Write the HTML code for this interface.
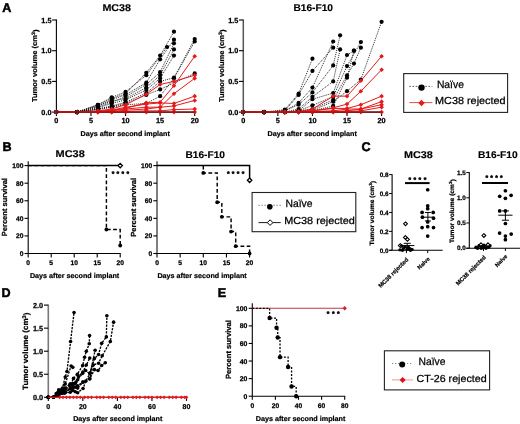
<!DOCTYPE html>
<html><head><meta charset="utf-8"><style>
html,body{margin:0;padding:0;background:#fff;}
svg{display:block;font-family:"Liberation Sans", Arial, sans-serif;text-rendering:geometricPrecision;filter:blur(0.35px);}
</style></head><body>
<svg width="520" height="424" viewBox="0 0 520 424">
<rect width="520" height="424" fill="#fff"/>
<text x="2.3" y="11.5" font-size="12.6" text-anchor="start" font-weight="bold" fill="#000" stroke="#000" stroke-width="0.5" >A</text>
<text x="2.6" y="150.9" font-size="12.6" text-anchor="start" font-weight="bold" fill="#000" stroke="#000" stroke-width="0.5" >B</text>
<text x="361.4" y="150.6" font-size="12.6" text-anchor="start" font-weight="bold" fill="#000" stroke="#000" stroke-width="0.5" >C</text>
<text x="1.5" y="297.4" font-size="12.6" text-anchor="start" font-weight="bold" fill="#000" stroke="#000" stroke-width="0.5" >D</text>
<text x="217.7" y="297.4" font-size="12.6" text-anchor="start" font-weight="bold" fill="#000" stroke="#000" stroke-width="0.5" >E</text>
<text x="102.4" y="10.5" font-size="9.8" text-anchor="start" font-weight="bold" fill="#000" textLength="28.7" lengthAdjust="spacingAndGlyphs" stroke="#000" stroke-width="0.15" >MC38</text>
<line x1="56.4" y1="112.1" x2="56.4" y2="19.5" stroke="#000" stroke-width="1.1" />
<line x1="52.1" y1="112.1" x2="56.4" y2="112.1" stroke="#000" stroke-width="1.1" />
<text x="51.5" y="114.71" font-size="7.3" text-anchor="end" font-weight="bold" fill="#000" stroke="#000" stroke-width="0.25" >0.0</text>
<line x1="52.1" y1="81.4" x2="56.4" y2="81.4" stroke="#000" stroke-width="1.1" />
<text x="51.5" y="84.01" font-size="7.3" text-anchor="end" font-weight="bold" fill="#000" stroke="#000" stroke-width="0.25" >0.5</text>
<line x1="52.1" y1="50.7" x2="56.4" y2="50.7" stroke="#000" stroke-width="1.1" />
<text x="51.5" y="53.31" font-size="7.3" text-anchor="end" font-weight="bold" fill="#000" stroke="#000" stroke-width="0.25" >1.0</text>
<line x1="52.1" y1="20" x2="56.4" y2="20" stroke="#000" stroke-width="1.1" />
<text x="51.5" y="22.61" font-size="7.3" text-anchor="end" font-weight="bold" fill="#000" stroke="#000" stroke-width="0.25" >1.5</text>
<line x1="56.4" y1="112.1" x2="195.2" y2="112.1" stroke="#000" stroke-width="1.1" />
<line x1="56.4" y1="112.1" x2="56.4" y2="115.9" stroke="#000" stroke-width="1.1" />
<text x="56.4" y="123.4" font-size="7.3" text-anchor="middle" font-weight="bold" fill="#000" stroke="#000" stroke-width="0.25" >0</text>
<line x1="90.97" y1="112.1" x2="90.97" y2="115.9" stroke="#000" stroke-width="1.1" />
<text x="90.97" y="123.4" font-size="7.3" text-anchor="middle" font-weight="bold" fill="#000" stroke="#000" stroke-width="0.25" >5</text>
<line x1="125.55" y1="112.1" x2="125.55" y2="115.9" stroke="#000" stroke-width="1.1" />
<text x="125.55" y="123.4" font-size="7.3" text-anchor="middle" font-weight="bold" fill="#000" stroke="#000" stroke-width="0.25" >10</text>
<line x1="160.12" y1="112.1" x2="160.12" y2="115.9" stroke="#000" stroke-width="1.1" />
<text x="160.12" y="123.4" font-size="7.3" text-anchor="middle" font-weight="bold" fill="#000" stroke="#000" stroke-width="0.25" >15</text>
<line x1="194.7" y1="112.1" x2="194.7" y2="115.9" stroke="#000" stroke-width="1.1" />
<text x="194.7" y="123.4" font-size="7.3" text-anchor="middle" font-weight="bold" fill="#000" stroke="#000" stroke-width="0.25" >20</text>
<text transform="translate(36.9,65.8) rotate(-90)" x="0" y="0" font-size="7.1" text-anchor="middle" font-weight="bold" stroke="#000" stroke-width="0.22" textLength="72.6" lengthAdjust="spacingAndGlyphs">Tumor volume (cm<tspan font-size="0.7em" dy="-0.4em">3</tspan><tspan dy="0.4em">)</tspan></text>
<text x="80.6" y="135.8" font-size="7.1" text-anchor="start" font-weight="bold" fill="#000" textLength="89.2" lengthAdjust="spacingAndGlyphs" stroke="#000" stroke-width="0.22" >Days after second implant</text>
<polyline points="56.4,112.1 77.14,112.1 97.89,104.73 111.72,98.59 125.55,93.68 146.29,72.8 160.12,55.61 173.96,31.67" fill="none" stroke="#111" stroke-width="0.9" stroke-dasharray="1,1" />
<polyline points="56.4,112.1 77.14,112.1 97.89,105.96 111.72,99.82 125.55,94.91 146.29,82.63 160.12,59.3 173.96,39.65" fill="none" stroke="#111" stroke-width="0.9" stroke-dasharray="1,1" />
<polyline points="56.4,112.1 77.14,112.1 97.89,107.19 111.72,102.28 125.55,96.75 146.29,84.47 160.12,72.19 173.96,43.33" fill="none" stroke="#111" stroke-width="0.9" stroke-dasharray="1,1" />
<polyline points="56.4,112.1 77.14,112.1 97.89,105.96 111.72,101.05 125.55,98.59 146.29,87.54 160.12,75.26 173.96,49.47" fill="none" stroke="#111" stroke-width="0.9" stroke-dasharray="1,1" />
<polyline points="56.4,112.1 77.14,112.1 97.89,107.8 111.72,103.5 125.55,99.82 146.29,90 160.12,78.33 173.96,55.61" fill="none" stroke="#111" stroke-width="0.9" stroke-dasharray="1,1" />
<polyline points="56.4,112.1 77.14,112.1 97.89,104.73 111.72,97.36 125.55,91.84 146.29,75.26 167.04,47.02" fill="none" stroke="#111" stroke-width="0.9" stroke-dasharray="1,1" />
<polyline points="56.4,112.1 77.14,112.1 97.89,109.03 111.72,105.96 125.55,102.28 146.29,93.07 160.12,81.4 173.96,77.72 194.7,39.03" fill="none" stroke="#111" stroke-width="0.9" stroke-dasharray="1,1" />
<polyline points="56.4,112.1 77.14,112.1 97.89,109.64 111.72,107.19 125.55,104.73 146.29,103.5 160.12,96.14 173.96,78.33 194.7,41.49" fill="none" stroke="#111" stroke-width="0.9" stroke-dasharray="1,1" />
<polyline points="56.4,112.1 77.14,112.1 97.89,109.03 111.72,106.57 125.55,103.5 146.29,94.91 160.12,89.38 194.7,73.42" fill="none" stroke="#111" stroke-width="0.9" stroke-dasharray="1,1" />
<circle cx="56.4" cy="112.1" r="2.1" fill="#000" stroke="none" stroke-width="0"/>
<circle cx="77.14" cy="112.1" r="2.1" fill="#000" stroke="none" stroke-width="0"/>
<circle cx="97.89" cy="104.73" r="2.1" fill="#000" stroke="none" stroke-width="0"/>
<circle cx="111.72" cy="98.59" r="2.1" fill="#000" stroke="none" stroke-width="0"/>
<circle cx="125.55" cy="93.68" r="2.1" fill="#000" stroke="none" stroke-width="0"/>
<circle cx="146.29" cy="72.8" r="2.1" fill="#000" stroke="none" stroke-width="0"/>
<circle cx="160.12" cy="55.61" r="2.1" fill="#000" stroke="none" stroke-width="0"/>
<circle cx="173.96" cy="31.67" r="2.1" fill="#000" stroke="none" stroke-width="0"/>
<circle cx="56.4" cy="112.1" r="2.1" fill="#000" stroke="none" stroke-width="0"/>
<circle cx="77.14" cy="112.1" r="2.1" fill="#000" stroke="none" stroke-width="0"/>
<circle cx="97.89" cy="105.96" r="2.1" fill="#000" stroke="none" stroke-width="0"/>
<circle cx="111.72" cy="99.82" r="2.1" fill="#000" stroke="none" stroke-width="0"/>
<circle cx="125.55" cy="94.91" r="2.1" fill="#000" stroke="none" stroke-width="0"/>
<circle cx="146.29" cy="82.63" r="2.1" fill="#000" stroke="none" stroke-width="0"/>
<circle cx="160.12" cy="59.3" r="2.1" fill="#000" stroke="none" stroke-width="0"/>
<circle cx="173.96" cy="39.65" r="2.1" fill="#000" stroke="none" stroke-width="0"/>
<circle cx="56.4" cy="112.1" r="2.1" fill="#000" stroke="none" stroke-width="0"/>
<circle cx="77.14" cy="112.1" r="2.1" fill="#000" stroke="none" stroke-width="0"/>
<circle cx="97.89" cy="107.19" r="2.1" fill="#000" stroke="none" stroke-width="0"/>
<circle cx="111.72" cy="102.28" r="2.1" fill="#000" stroke="none" stroke-width="0"/>
<circle cx="125.55" cy="96.75" r="2.1" fill="#000" stroke="none" stroke-width="0"/>
<circle cx="146.29" cy="84.47" r="2.1" fill="#000" stroke="none" stroke-width="0"/>
<circle cx="160.12" cy="72.19" r="2.1" fill="#000" stroke="none" stroke-width="0"/>
<circle cx="173.96" cy="43.33" r="2.1" fill="#000" stroke="none" stroke-width="0"/>
<circle cx="56.4" cy="112.1" r="2.1" fill="#000" stroke="none" stroke-width="0"/>
<circle cx="77.14" cy="112.1" r="2.1" fill="#000" stroke="none" stroke-width="0"/>
<circle cx="97.89" cy="105.96" r="2.1" fill="#000" stroke="none" stroke-width="0"/>
<circle cx="111.72" cy="101.05" r="2.1" fill="#000" stroke="none" stroke-width="0"/>
<circle cx="125.55" cy="98.59" r="2.1" fill="#000" stroke="none" stroke-width="0"/>
<circle cx="146.29" cy="87.54" r="2.1" fill="#000" stroke="none" stroke-width="0"/>
<circle cx="160.12" cy="75.26" r="2.1" fill="#000" stroke="none" stroke-width="0"/>
<circle cx="173.96" cy="49.47" r="2.1" fill="#000" stroke="none" stroke-width="0"/>
<circle cx="56.4" cy="112.1" r="2.1" fill="#000" stroke="none" stroke-width="0"/>
<circle cx="77.14" cy="112.1" r="2.1" fill="#000" stroke="none" stroke-width="0"/>
<circle cx="97.89" cy="107.8" r="2.1" fill="#000" stroke="none" stroke-width="0"/>
<circle cx="111.72" cy="103.5" r="2.1" fill="#000" stroke="none" stroke-width="0"/>
<circle cx="125.55" cy="99.82" r="2.1" fill="#000" stroke="none" stroke-width="0"/>
<circle cx="146.29" cy="90" r="2.1" fill="#000" stroke="none" stroke-width="0"/>
<circle cx="160.12" cy="78.33" r="2.1" fill="#000" stroke="none" stroke-width="0"/>
<circle cx="173.96" cy="55.61" r="2.1" fill="#000" stroke="none" stroke-width="0"/>
<circle cx="56.4" cy="112.1" r="2.1" fill="#000" stroke="none" stroke-width="0"/>
<circle cx="77.14" cy="112.1" r="2.1" fill="#000" stroke="none" stroke-width="0"/>
<circle cx="97.89" cy="104.73" r="2.1" fill="#000" stroke="none" stroke-width="0"/>
<circle cx="111.72" cy="97.36" r="2.1" fill="#000" stroke="none" stroke-width="0"/>
<circle cx="125.55" cy="91.84" r="2.1" fill="#000" stroke="none" stroke-width="0"/>
<circle cx="146.29" cy="75.26" r="2.1" fill="#000" stroke="none" stroke-width="0"/>
<circle cx="167.04" cy="47.02" r="2.1" fill="#000" stroke="none" stroke-width="0"/>
<circle cx="56.4" cy="112.1" r="2.1" fill="#000" stroke="none" stroke-width="0"/>
<circle cx="77.14" cy="112.1" r="2.1" fill="#000" stroke="none" stroke-width="0"/>
<circle cx="97.89" cy="109.03" r="2.1" fill="#000" stroke="none" stroke-width="0"/>
<circle cx="111.72" cy="105.96" r="2.1" fill="#000" stroke="none" stroke-width="0"/>
<circle cx="125.55" cy="102.28" r="2.1" fill="#000" stroke="none" stroke-width="0"/>
<circle cx="146.29" cy="93.07" r="2.1" fill="#000" stroke="none" stroke-width="0"/>
<circle cx="160.12" cy="81.4" r="2.1" fill="#000" stroke="none" stroke-width="0"/>
<circle cx="173.96" cy="77.72" r="2.1" fill="#000" stroke="none" stroke-width="0"/>
<circle cx="194.7" cy="39.03" r="2.1" fill="#000" stroke="none" stroke-width="0"/>
<circle cx="56.4" cy="112.1" r="2.1" fill="#000" stroke="none" stroke-width="0"/>
<circle cx="77.14" cy="112.1" r="2.1" fill="#000" stroke="none" stroke-width="0"/>
<circle cx="97.89" cy="109.64" r="2.1" fill="#000" stroke="none" stroke-width="0"/>
<circle cx="111.72" cy="107.19" r="2.1" fill="#000" stroke="none" stroke-width="0"/>
<circle cx="125.55" cy="104.73" r="2.1" fill="#000" stroke="none" stroke-width="0"/>
<circle cx="146.29" cy="103.5" r="2.1" fill="#000" stroke="none" stroke-width="0"/>
<circle cx="160.12" cy="96.14" r="2.1" fill="#000" stroke="none" stroke-width="0"/>
<circle cx="173.96" cy="78.33" r="2.1" fill="#000" stroke="none" stroke-width="0"/>
<circle cx="194.7" cy="41.49" r="2.1" fill="#000" stroke="none" stroke-width="0"/>
<circle cx="56.4" cy="112.1" r="2.1" fill="#000" stroke="none" stroke-width="0"/>
<circle cx="77.14" cy="112.1" r="2.1" fill="#000" stroke="none" stroke-width="0"/>
<circle cx="97.89" cy="109.03" r="2.1" fill="#000" stroke="none" stroke-width="0"/>
<circle cx="111.72" cy="106.57" r="2.1" fill="#000" stroke="none" stroke-width="0"/>
<circle cx="125.55" cy="103.5" r="2.1" fill="#000" stroke="none" stroke-width="0"/>
<circle cx="146.29" cy="94.91" r="2.1" fill="#000" stroke="none" stroke-width="0"/>
<circle cx="160.12" cy="89.38" r="2.1" fill="#000" stroke="none" stroke-width="0"/>
<circle cx="194.7" cy="73.42" r="2.1" fill="#000" stroke="none" stroke-width="0"/>
<polyline points="56.4,112.1 77.14,112.1 97.89,110.87 111.72,109.03 125.55,104.73 146.29,94.29 160.12,84.47 173.96,81.4 194.7,75.26" fill="none" stroke="#e41a1c" stroke-width="1.0" />
<polyline points="56.4,112.1 77.14,112.1 97.89,111.49 111.72,110.26 125.55,108.42 146.29,102.89 160.12,102.28 173.96,85.7 194.7,56.23" fill="none" stroke="#e41a1c" stroke-width="1.0" />
<polyline points="56.4,112.1 77.14,112.1 97.89,111.49 111.72,110.87 125.55,109.03 146.29,107.19 160.12,107.19 173.96,93.68 194.7,78.33" fill="none" stroke="#e41a1c" stroke-width="1.0" />
<polyline points="56.4,112.1 77.14,112.1 97.89,111.49 111.72,110.26 125.55,107.19 146.29,104.12 160.12,102.89 173.96,103.5 194.7,96.14" fill="none" stroke="#e41a1c" stroke-width="1.0" />
<polyline points="56.4,112.1 77.14,112.1 97.89,112.1 111.72,111.49 125.55,110.26 146.29,109.03 160.12,107.19 173.96,105.96 194.7,100.43" fill="none" stroke="#e41a1c" stroke-width="1.0" />
<polyline points="56.4,112.1 77.14,112.1 97.89,112.1 111.72,112.1 125.55,111.49 146.29,110.87 160.12,110.87 173.96,109.64 194.7,109.03" fill="none" stroke="#e41a1c" stroke-width="1.0" />
<polyline points="56.4,112.1 77.14,112.1 97.89,112.1 111.72,112.1 125.55,112.1 146.29,112.1 160.12,112.1 173.96,112.1 194.7,112.1" fill="none" stroke="#e41a1c" stroke-width="1.0" />
<polygon points="56.4,109.8 58.7,112.1 56.4,114.4 54.1,112.1" fill="#8e1b25" stroke="none" stroke-width="0"/>
<polygon points="77.14,109.8 79.44,112.1 77.14,114.4 74.84,112.1" fill="#8e1b25" stroke="none" stroke-width="0"/>
<polygon points="97.89,108.57 100.19,110.87 97.89,113.17 95.59,110.87" fill="#e41a1c" stroke="none" stroke-width="0"/>
<polygon points="111.72,106.73 114.02,109.03 111.72,111.33 109.42,109.03" fill="#e41a1c" stroke="none" stroke-width="0"/>
<polygon points="125.55,102.43 127.85,104.73 125.55,107.03 123.25,104.73" fill="#e41a1c" stroke="none" stroke-width="0"/>
<polygon points="146.29,91.99 148.59,94.29 146.29,96.59 143.99,94.29" fill="#e41a1c" stroke="none" stroke-width="0"/>
<polygon points="160.12,82.17 162.43,84.47 160.12,86.77 157.82,84.47" fill="#e41a1c" stroke="none" stroke-width="0"/>
<polygon points="173.96,79.1 176.26,81.4 173.96,83.7 171.66,81.4" fill="#e41a1c" stroke="none" stroke-width="0"/>
<polygon points="194.7,72.96 197,75.26 194.7,77.56 192.4,75.26" fill="#e41a1c" stroke="none" stroke-width="0"/>
<polygon points="56.4,109.8 58.7,112.1 56.4,114.4 54.1,112.1" fill="#8e1b25" stroke="none" stroke-width="0"/>
<polygon points="77.14,109.8 79.44,112.1 77.14,114.4 74.84,112.1" fill="#8e1b25" stroke="none" stroke-width="0"/>
<polygon points="97.89,109.19 100.19,111.49 97.89,113.79 95.59,111.49" fill="#e41a1c" stroke="none" stroke-width="0"/>
<polygon points="111.72,107.96 114.02,110.26 111.72,112.56 109.42,110.26" fill="#e41a1c" stroke="none" stroke-width="0"/>
<polygon points="125.55,106.12 127.85,108.42 125.55,110.72 123.25,108.42" fill="#e41a1c" stroke="none" stroke-width="0"/>
<polygon points="146.29,100.59 148.59,102.89 146.29,105.19 143.99,102.89" fill="#e41a1c" stroke="none" stroke-width="0"/>
<polygon points="160.12,99.98 162.43,102.28 160.12,104.58 157.82,102.28" fill="#e41a1c" stroke="none" stroke-width="0"/>
<polygon points="173.96,83.4 176.26,85.7 173.96,88 171.66,85.7" fill="#e41a1c" stroke="none" stroke-width="0"/>
<polygon points="194.7,53.93 197,56.23 194.7,58.53 192.4,56.23" fill="#e41a1c" stroke="none" stroke-width="0"/>
<polygon points="56.4,109.8 58.7,112.1 56.4,114.4 54.1,112.1" fill="#8e1b25" stroke="none" stroke-width="0"/>
<polygon points="77.14,109.8 79.44,112.1 77.14,114.4 74.84,112.1" fill="#8e1b25" stroke="none" stroke-width="0"/>
<polygon points="97.89,109.19 100.19,111.49 97.89,113.79 95.59,111.49" fill="#e41a1c" stroke="none" stroke-width="0"/>
<polygon points="111.72,108.57 114.02,110.87 111.72,113.17 109.42,110.87" fill="#e41a1c" stroke="none" stroke-width="0"/>
<polygon points="125.55,106.73 127.85,109.03 125.55,111.33 123.25,109.03" fill="#e41a1c" stroke="none" stroke-width="0"/>
<polygon points="146.29,104.89 148.59,107.19 146.29,109.49 143.99,107.19" fill="#e41a1c" stroke="none" stroke-width="0"/>
<polygon points="160.12,104.89 162.43,107.19 160.12,109.49 157.82,107.19" fill="#e41a1c" stroke="none" stroke-width="0"/>
<polygon points="173.96,91.38 176.26,93.68 173.96,95.98 171.66,93.68" fill="#e41a1c" stroke="none" stroke-width="0"/>
<polygon points="194.7,76.03 197,78.33 194.7,80.63 192.4,78.33" fill="#e41a1c" stroke="none" stroke-width="0"/>
<polygon points="56.4,109.8 58.7,112.1 56.4,114.4 54.1,112.1" fill="#8e1b25" stroke="none" stroke-width="0"/>
<polygon points="77.14,109.8 79.44,112.1 77.14,114.4 74.84,112.1" fill="#8e1b25" stroke="none" stroke-width="0"/>
<polygon points="97.89,109.19 100.19,111.49 97.89,113.79 95.59,111.49" fill="#e41a1c" stroke="none" stroke-width="0"/>
<polygon points="111.72,107.96 114.02,110.26 111.72,112.56 109.42,110.26" fill="#e41a1c" stroke="none" stroke-width="0"/>
<polygon points="125.55,104.89 127.85,107.19 125.55,109.49 123.25,107.19" fill="#e41a1c" stroke="none" stroke-width="0"/>
<polygon points="146.29,101.82 148.59,104.12 146.29,106.42 143.99,104.12" fill="#e41a1c" stroke="none" stroke-width="0"/>
<polygon points="160.12,100.59 162.43,102.89 160.12,105.19 157.82,102.89" fill="#e41a1c" stroke="none" stroke-width="0"/>
<polygon points="173.96,101.2 176.26,103.5 173.96,105.8 171.66,103.5" fill="#e41a1c" stroke="none" stroke-width="0"/>
<polygon points="194.7,93.84 197,96.14 194.7,98.44 192.4,96.14" fill="#e41a1c" stroke="none" stroke-width="0"/>
<polygon points="56.4,109.8 58.7,112.1 56.4,114.4 54.1,112.1" fill="#8e1b25" stroke="none" stroke-width="0"/>
<polygon points="77.14,109.8 79.44,112.1 77.14,114.4 74.84,112.1" fill="#8e1b25" stroke="none" stroke-width="0"/>
<polygon points="97.89,109.8 100.19,112.1 97.89,114.4 95.59,112.1" fill="#e41a1c" stroke="none" stroke-width="0"/>
<polygon points="111.72,109.19 114.02,111.49 111.72,113.79 109.42,111.49" fill="#e41a1c" stroke="none" stroke-width="0"/>
<polygon points="125.55,107.96 127.85,110.26 125.55,112.56 123.25,110.26" fill="#e41a1c" stroke="none" stroke-width="0"/>
<polygon points="146.29,106.73 148.59,109.03 146.29,111.33 143.99,109.03" fill="#e41a1c" stroke="none" stroke-width="0"/>
<polygon points="160.12,104.89 162.43,107.19 160.12,109.49 157.82,107.19" fill="#e41a1c" stroke="none" stroke-width="0"/>
<polygon points="173.96,103.66 176.26,105.96 173.96,108.26 171.66,105.96" fill="#e41a1c" stroke="none" stroke-width="0"/>
<polygon points="194.7,98.13 197,100.43 194.7,102.73 192.4,100.43" fill="#e41a1c" stroke="none" stroke-width="0"/>
<polygon points="56.4,109.8 58.7,112.1 56.4,114.4 54.1,112.1" fill="#8e1b25" stroke="none" stroke-width="0"/>
<polygon points="77.14,109.8 79.44,112.1 77.14,114.4 74.84,112.1" fill="#8e1b25" stroke="none" stroke-width="0"/>
<polygon points="97.89,109.8 100.19,112.1 97.89,114.4 95.59,112.1" fill="#e41a1c" stroke="none" stroke-width="0"/>
<polygon points="111.72,109.8 114.02,112.1 111.72,114.4 109.42,112.1" fill="#e41a1c" stroke="none" stroke-width="0"/>
<polygon points="125.55,109.19 127.85,111.49 125.55,113.79 123.25,111.49" fill="#e41a1c" stroke="none" stroke-width="0"/>
<polygon points="146.29,108.57 148.59,110.87 146.29,113.17 143.99,110.87" fill="#e41a1c" stroke="none" stroke-width="0"/>
<polygon points="160.12,108.57 162.43,110.87 160.12,113.17 157.82,110.87" fill="#e41a1c" stroke="none" stroke-width="0"/>
<polygon points="173.96,107.34 176.26,109.64 173.96,111.94 171.66,109.64" fill="#e41a1c" stroke="none" stroke-width="0"/>
<polygon points="194.7,106.73 197,109.03 194.7,111.33 192.4,109.03" fill="#e41a1c" stroke="none" stroke-width="0"/>
<polygon points="56.4,109.8 58.7,112.1 56.4,114.4 54.1,112.1" fill="#8e1b25" stroke="none" stroke-width="0"/>
<polygon points="77.14,109.8 79.44,112.1 77.14,114.4 74.84,112.1" fill="#8e1b25" stroke="none" stroke-width="0"/>
<polygon points="97.89,109.8 100.19,112.1 97.89,114.4 95.59,112.1" fill="#e41a1c" stroke="none" stroke-width="0"/>
<polygon points="111.72,109.8 114.02,112.1 111.72,114.4 109.42,112.1" fill="#e41a1c" stroke="none" stroke-width="0"/>
<polygon points="125.55,109.8 127.85,112.1 125.55,114.4 123.25,112.1" fill="#e41a1c" stroke="none" stroke-width="0"/>
<polygon points="146.29,109.8 148.59,112.1 146.29,114.4 143.99,112.1" fill="#e41a1c" stroke="none" stroke-width="0"/>
<polygon points="160.12,109.8 162.43,112.1 160.12,114.4 157.82,112.1" fill="#e41a1c" stroke="none" stroke-width="0"/>
<polygon points="173.96,109.8 176.26,112.1 173.96,114.4 171.66,112.1" fill="#e41a1c" stroke="none" stroke-width="0"/>
<polygon points="194.7,109.8 197,112.1 194.7,114.4 192.4,112.1" fill="#e41a1c" stroke="none" stroke-width="0"/>
<line x1="56.4" y1="112.1" x2="195.2" y2="112.1" stroke="#000" stroke-width="0.7" stroke-opacity="0.6"/>
<text x="293.4" y="10.5" font-size="9.8" text-anchor="start" font-weight="bold" fill="#000" textLength="39.6" lengthAdjust="spacingAndGlyphs" stroke="#000" stroke-width="0.15" >B16-F10</text>
<line x1="243.3" y1="112.1" x2="243.3" y2="19.5" stroke="#555" stroke-width="1.5" />
<line x1="239" y1="112.1" x2="243.3" y2="112.1" stroke="#000" stroke-width="1.1" />
<text x="238.4" y="114.71" font-size="7.3" text-anchor="end" font-weight="bold" fill="#000" stroke="#000" stroke-width="0.25" >0.0</text>
<line x1="239" y1="81.4" x2="243.3" y2="81.4" stroke="#000" stroke-width="1.1" />
<text x="238.4" y="84.01" font-size="7.3" text-anchor="end" font-weight="bold" fill="#000" stroke="#000" stroke-width="0.25" >0.5</text>
<line x1="239" y1="50.7" x2="243.3" y2="50.7" stroke="#000" stroke-width="1.1" />
<text x="238.4" y="53.31" font-size="7.3" text-anchor="end" font-weight="bold" fill="#000" stroke="#000" stroke-width="0.25" >1.0</text>
<line x1="239" y1="20" x2="243.3" y2="20" stroke="#000" stroke-width="1.1" />
<text x="238.4" y="22.61" font-size="7.3" text-anchor="end" font-weight="bold" fill="#000" stroke="#000" stroke-width="0.25" >1.5</text>
<line x1="243.3" y1="112.1" x2="382.1" y2="112.1" stroke="#000" stroke-width="1.1" />
<line x1="243.3" y1="112.1" x2="243.3" y2="115.9" stroke="#000" stroke-width="1.1" />
<text x="243.3" y="123.4" font-size="7.3" text-anchor="middle" font-weight="bold" fill="#000" stroke="#000" stroke-width="0.25" >0</text>
<line x1="277.88" y1="112.1" x2="277.88" y2="115.9" stroke="#000" stroke-width="1.1" />
<text x="277.88" y="123.4" font-size="7.3" text-anchor="middle" font-weight="bold" fill="#000" stroke="#000" stroke-width="0.25" >5</text>
<line x1="312.45" y1="112.1" x2="312.45" y2="115.9" stroke="#000" stroke-width="1.1" />
<text x="312.45" y="123.4" font-size="7.3" text-anchor="middle" font-weight="bold" fill="#000" stroke="#000" stroke-width="0.25" >10</text>
<line x1="347.02" y1="112.1" x2="347.02" y2="115.9" stroke="#000" stroke-width="1.1" />
<text x="347.02" y="123.4" font-size="7.3" text-anchor="middle" font-weight="bold" fill="#000" stroke="#000" stroke-width="0.25" >15</text>
<line x1="381.6" y1="112.1" x2="381.6" y2="115.9" stroke="#000" stroke-width="1.1" />
<text x="381.6" y="123.4" font-size="7.3" text-anchor="middle" font-weight="bold" fill="#000" stroke="#000" stroke-width="0.25" >20</text>
<text transform="translate(223.9,65.8) rotate(-90)" x="0" y="0" font-size="7.1" text-anchor="middle" font-weight="bold" stroke="#000" stroke-width="0.22" textLength="72.6" lengthAdjust="spacingAndGlyphs">Tumor volume (cm<tspan font-size="0.7em" dy="-0.4em">3</tspan><tspan dy="0.4em">)</tspan></text>
<text x="267.6" y="135.8" font-size="7.1" text-anchor="start" font-weight="bold" fill="#000" textLength="89.2" lengthAdjust="spacingAndGlyphs" stroke="#000" stroke-width="0.22" >Days after second implant</text>
<polyline points="243.3,112.1 264.05,112.1 284.79,109.64 298.62,93.68 312.45,58.68" fill="none" stroke="#111" stroke-width="0.9" stroke-dasharray="1,1" />
<polyline points="243.3,112.1 264.05,112.1 284.79,110.87 298.62,94.91 312.45,70.96 333.19,47.63" fill="none" stroke="#111" stroke-width="0.9" stroke-dasharray="1,1" />
<polyline points="243.3,112.1 264.05,112.1 284.79,110.87 298.62,102.89 312.45,87.54 333.19,41.49" fill="none" stroke="#111" stroke-width="0.9" stroke-dasharray="1,1" />
<polyline points="243.3,112.1 264.05,112.1 284.79,110.87 298.62,104.73 312.45,92.45 333.19,65.44 340.11,35.35" fill="none" stroke="#111" stroke-width="0.9" stroke-dasharray="1,1" />
<polyline points="243.3,112.1 264.05,112.1 284.79,112.1 298.62,109.03 312.45,96.75 333.19,81.4 340.11,49.47" fill="none" stroke="#111" stroke-width="0.9" stroke-dasharray="1,1" />
<polyline points="243.3,112.1 264.05,112.1 284.79,112.1 298.62,110.87 312.45,99.21 333.19,93.07 347.02,55 353.94,50.7" fill="none" stroke="#111" stroke-width="0.9" stroke-dasharray="1,1" />
<polyline points="243.3,112.1 264.05,112.1 284.79,112.1 298.62,110.87 312.45,105.35 333.19,96.75 347.02,66.05 360.86,42.1" fill="none" stroke="#111" stroke-width="0.9" stroke-dasharray="1,1" />
<polyline points="243.3,112.1 264.05,112.1 284.79,112.1 298.62,110.87 312.45,109.03 333.19,99.82 347.02,75.26 353.94,63.59 360.86,47.63" fill="none" stroke="#111" stroke-width="0.9" stroke-dasharray="1,1" />
<polyline points="243.3,112.1 264.05,112.1 284.79,112.1 298.62,111.49 312.45,110.26 333.19,101.66 347.02,91.22 360.86,79.56 381.6,21.84" fill="none" stroke="#111" stroke-width="0.9" stroke-dasharray="1,1" />
<polyline points="243.3,112.1 264.05,112.1 284.79,112.1 298.62,111.49 312.45,110.87 333.19,105.96 347.02,77.72 353.94,50.7" fill="none" stroke="#111" stroke-width="0.9" stroke-dasharray="1,1" />
<circle cx="243.3" cy="112.1" r="2.1" fill="#000" stroke="none" stroke-width="0"/>
<circle cx="264.05" cy="112.1" r="2.1" fill="#000" stroke="none" stroke-width="0"/>
<circle cx="284.79" cy="109.64" r="2.1" fill="#000" stroke="none" stroke-width="0"/>
<circle cx="298.62" cy="93.68" r="2.1" fill="#000" stroke="none" stroke-width="0"/>
<circle cx="312.45" cy="58.68" r="2.1" fill="#000" stroke="none" stroke-width="0"/>
<circle cx="243.3" cy="112.1" r="2.1" fill="#000" stroke="none" stroke-width="0"/>
<circle cx="264.05" cy="112.1" r="2.1" fill="#000" stroke="none" stroke-width="0"/>
<circle cx="284.79" cy="110.87" r="2.1" fill="#000" stroke="none" stroke-width="0"/>
<circle cx="298.62" cy="94.91" r="2.1" fill="#000" stroke="none" stroke-width="0"/>
<circle cx="312.45" cy="70.96" r="2.1" fill="#000" stroke="none" stroke-width="0"/>
<circle cx="333.19" cy="47.63" r="2.1" fill="#000" stroke="none" stroke-width="0"/>
<circle cx="243.3" cy="112.1" r="2.1" fill="#000" stroke="none" stroke-width="0"/>
<circle cx="264.05" cy="112.1" r="2.1" fill="#000" stroke="none" stroke-width="0"/>
<circle cx="284.79" cy="110.87" r="2.1" fill="#000" stroke="none" stroke-width="0"/>
<circle cx="298.62" cy="102.89" r="2.1" fill="#000" stroke="none" stroke-width="0"/>
<circle cx="312.45" cy="87.54" r="2.1" fill="#000" stroke="none" stroke-width="0"/>
<circle cx="333.19" cy="41.49" r="2.1" fill="#000" stroke="none" stroke-width="0"/>
<circle cx="243.3" cy="112.1" r="2.1" fill="#000" stroke="none" stroke-width="0"/>
<circle cx="264.05" cy="112.1" r="2.1" fill="#000" stroke="none" stroke-width="0"/>
<circle cx="284.79" cy="110.87" r="2.1" fill="#000" stroke="none" stroke-width="0"/>
<circle cx="298.62" cy="104.73" r="2.1" fill="#000" stroke="none" stroke-width="0"/>
<circle cx="312.45" cy="92.45" r="2.1" fill="#000" stroke="none" stroke-width="0"/>
<circle cx="333.19" cy="65.44" r="2.1" fill="#000" stroke="none" stroke-width="0"/>
<circle cx="340.11" cy="35.35" r="2.1" fill="#000" stroke="none" stroke-width="0"/>
<circle cx="243.3" cy="112.1" r="2.1" fill="#000" stroke="none" stroke-width="0"/>
<circle cx="264.05" cy="112.1" r="2.1" fill="#000" stroke="none" stroke-width="0"/>
<circle cx="284.79" cy="112.1" r="2.1" fill="#000" stroke="none" stroke-width="0"/>
<circle cx="298.62" cy="109.03" r="2.1" fill="#000" stroke="none" stroke-width="0"/>
<circle cx="312.45" cy="96.75" r="2.1" fill="#000" stroke="none" stroke-width="0"/>
<circle cx="333.19" cy="81.4" r="2.1" fill="#000" stroke="none" stroke-width="0"/>
<circle cx="340.11" cy="49.47" r="2.1" fill="#000" stroke="none" stroke-width="0"/>
<circle cx="243.3" cy="112.1" r="2.1" fill="#000" stroke="none" stroke-width="0"/>
<circle cx="264.05" cy="112.1" r="2.1" fill="#000" stroke="none" stroke-width="0"/>
<circle cx="284.79" cy="112.1" r="2.1" fill="#000" stroke="none" stroke-width="0"/>
<circle cx="298.62" cy="110.87" r="2.1" fill="#000" stroke="none" stroke-width="0"/>
<circle cx="312.45" cy="99.21" r="2.1" fill="#000" stroke="none" stroke-width="0"/>
<circle cx="333.19" cy="93.07" r="2.1" fill="#000" stroke="none" stroke-width="0"/>
<circle cx="347.02" cy="55" r="2.1" fill="#000" stroke="none" stroke-width="0"/>
<circle cx="353.94" cy="50.7" r="2.1" fill="#000" stroke="none" stroke-width="0"/>
<circle cx="243.3" cy="112.1" r="2.1" fill="#000" stroke="none" stroke-width="0"/>
<circle cx="264.05" cy="112.1" r="2.1" fill="#000" stroke="none" stroke-width="0"/>
<circle cx="284.79" cy="112.1" r="2.1" fill="#000" stroke="none" stroke-width="0"/>
<circle cx="298.62" cy="110.87" r="2.1" fill="#000" stroke="none" stroke-width="0"/>
<circle cx="312.45" cy="105.35" r="2.1" fill="#000" stroke="none" stroke-width="0"/>
<circle cx="333.19" cy="96.75" r="2.1" fill="#000" stroke="none" stroke-width="0"/>
<circle cx="347.02" cy="66.05" r="2.1" fill="#000" stroke="none" stroke-width="0"/>
<circle cx="360.86" cy="42.1" r="2.1" fill="#000" stroke="none" stroke-width="0"/>
<circle cx="243.3" cy="112.1" r="2.1" fill="#000" stroke="none" stroke-width="0"/>
<circle cx="264.05" cy="112.1" r="2.1" fill="#000" stroke="none" stroke-width="0"/>
<circle cx="284.79" cy="112.1" r="2.1" fill="#000" stroke="none" stroke-width="0"/>
<circle cx="298.62" cy="110.87" r="2.1" fill="#000" stroke="none" stroke-width="0"/>
<circle cx="312.45" cy="109.03" r="2.1" fill="#000" stroke="none" stroke-width="0"/>
<circle cx="333.19" cy="99.82" r="2.1" fill="#000" stroke="none" stroke-width="0"/>
<circle cx="347.02" cy="75.26" r="2.1" fill="#000" stroke="none" stroke-width="0"/>
<circle cx="353.94" cy="63.59" r="2.1" fill="#000" stroke="none" stroke-width="0"/>
<circle cx="360.86" cy="47.63" r="2.1" fill="#000" stroke="none" stroke-width="0"/>
<circle cx="243.3" cy="112.1" r="2.1" fill="#000" stroke="none" stroke-width="0"/>
<circle cx="264.05" cy="112.1" r="2.1" fill="#000" stroke="none" stroke-width="0"/>
<circle cx="284.79" cy="112.1" r="2.1" fill="#000" stroke="none" stroke-width="0"/>
<circle cx="298.62" cy="111.49" r="2.1" fill="#000" stroke="none" stroke-width="0"/>
<circle cx="312.45" cy="110.26" r="2.1" fill="#000" stroke="none" stroke-width="0"/>
<circle cx="333.19" cy="101.66" r="2.1" fill="#000" stroke="none" stroke-width="0"/>
<circle cx="347.02" cy="91.22" r="2.1" fill="#000" stroke="none" stroke-width="0"/>
<circle cx="360.86" cy="79.56" r="2.1" fill="#000" stroke="none" stroke-width="0"/>
<circle cx="381.6" cy="21.84" r="2.1" fill="#000" stroke="none" stroke-width="0"/>
<circle cx="243.3" cy="112.1" r="2.1" fill="#000" stroke="none" stroke-width="0"/>
<circle cx="264.05" cy="112.1" r="2.1" fill="#000" stroke="none" stroke-width="0"/>
<circle cx="284.79" cy="112.1" r="2.1" fill="#000" stroke="none" stroke-width="0"/>
<circle cx="298.62" cy="111.49" r="2.1" fill="#000" stroke="none" stroke-width="0"/>
<circle cx="312.45" cy="110.87" r="2.1" fill="#000" stroke="none" stroke-width="0"/>
<circle cx="333.19" cy="105.96" r="2.1" fill="#000" stroke="none" stroke-width="0"/>
<circle cx="347.02" cy="77.72" r="2.1" fill="#000" stroke="none" stroke-width="0"/>
<circle cx="353.94" cy="50.7" r="2.1" fill="#000" stroke="none" stroke-width="0"/>
<polyline points="243.3,112.1 264.05,112.1 284.79,112.1 298.62,111.49 312.45,109.03 333.19,96.14 347.02,96.14 360.86,80.79 381.6,56.23" fill="none" stroke="#e41a1c" stroke-width="1.0" />
<polyline points="243.3,112.1 264.05,112.1 284.79,112.1 298.62,111.49 312.45,110.87 333.19,107.8 347.02,104.12 360.86,91.22 381.6,69.73" fill="none" stroke="#e41a1c" stroke-width="1.0" />
<polyline points="243.3,112.1 264.05,112.1 284.79,112.1 298.62,112.1 312.45,110.87 333.19,108.42 347.02,108.42 360.86,104.73 381.6,96.14" fill="none" stroke="#e41a1c" stroke-width="1.0" />
<polyline points="243.3,112.1 264.05,112.1 284.79,112.1 298.62,112.1 312.45,111.49 333.19,110.87 347.02,109.03 360.86,109.03 381.6,101.66" fill="none" stroke="#e41a1c" stroke-width="1.0" />
<polyline points="243.3,112.1 264.05,112.1 284.79,112.1 298.62,112.1 312.45,112.1 333.19,111.49 347.02,110.87 360.86,109.03 381.6,104.73" fill="none" stroke="#e41a1c" stroke-width="1.0" />
<polyline points="243.3,112.1 264.05,112.1 284.79,112.1 298.62,112.1 312.45,112.1 333.19,112.1 347.02,111.49 360.86,110.87 381.6,107.19" fill="none" stroke="#e41a1c" stroke-width="1.0" />
<polyline points="243.3,112.1 264.05,112.1 284.79,112.1 298.62,112.1 312.45,112.1 333.19,112.1 347.02,112.1 360.86,112.1 381.6,112.1" fill="none" stroke="#e41a1c" stroke-width="1.0" />
<polygon points="243.3,109.8 245.6,112.1 243.3,114.4 241,112.1" fill="#8e1b25" stroke="none" stroke-width="0"/>
<polygon points="264.05,109.8 266.35,112.1 264.05,114.4 261.75,112.1" fill="#8e1b25" stroke="none" stroke-width="0"/>
<polygon points="284.79,109.8 287.09,112.1 284.79,114.4 282.49,112.1" fill="#e41a1c" stroke="none" stroke-width="0"/>
<polygon points="298.62,109.19 300.92,111.49 298.62,113.79 296.32,111.49" fill="#e41a1c" stroke="none" stroke-width="0"/>
<polygon points="312.45,106.73 314.75,109.03 312.45,111.33 310.15,109.03" fill="#e41a1c" stroke="none" stroke-width="0"/>
<polygon points="333.19,93.84 335.5,96.14 333.19,98.44 330.89,96.14" fill="#e41a1c" stroke="none" stroke-width="0"/>
<polygon points="347.02,93.84 349.32,96.14 347.02,98.44 344.72,96.14" fill="#e41a1c" stroke="none" stroke-width="0"/>
<polygon points="360.86,78.49 363.16,80.79 360.86,83.09 358.56,80.79" fill="#e41a1c" stroke="none" stroke-width="0"/>
<polygon points="381.6,53.93 383.9,56.23 381.6,58.53 379.3,56.23" fill="#e41a1c" stroke="none" stroke-width="0"/>
<polygon points="243.3,109.8 245.6,112.1 243.3,114.4 241,112.1" fill="#8e1b25" stroke="none" stroke-width="0"/>
<polygon points="264.05,109.8 266.35,112.1 264.05,114.4 261.75,112.1" fill="#8e1b25" stroke="none" stroke-width="0"/>
<polygon points="284.79,109.8 287.09,112.1 284.79,114.4 282.49,112.1" fill="#e41a1c" stroke="none" stroke-width="0"/>
<polygon points="298.62,109.19 300.92,111.49 298.62,113.79 296.32,111.49" fill="#e41a1c" stroke="none" stroke-width="0"/>
<polygon points="312.45,108.57 314.75,110.87 312.45,113.17 310.15,110.87" fill="#e41a1c" stroke="none" stroke-width="0"/>
<polygon points="333.19,105.5 335.5,107.8 333.19,110.1 330.89,107.8" fill="#e41a1c" stroke="none" stroke-width="0"/>
<polygon points="347.02,101.82 349.32,104.12 347.02,106.42 344.72,104.12" fill="#e41a1c" stroke="none" stroke-width="0"/>
<polygon points="360.86,88.92 363.16,91.22 360.86,93.52 358.56,91.22" fill="#e41a1c" stroke="none" stroke-width="0"/>
<polygon points="381.6,67.43 383.9,69.73 381.6,72.03 379.3,69.73" fill="#e41a1c" stroke="none" stroke-width="0"/>
<polygon points="243.3,109.8 245.6,112.1 243.3,114.4 241,112.1" fill="#8e1b25" stroke="none" stroke-width="0"/>
<polygon points="264.05,109.8 266.35,112.1 264.05,114.4 261.75,112.1" fill="#8e1b25" stroke="none" stroke-width="0"/>
<polygon points="284.79,109.8 287.09,112.1 284.79,114.4 282.49,112.1" fill="#e41a1c" stroke="none" stroke-width="0"/>
<polygon points="298.62,109.8 300.92,112.1 298.62,114.4 296.32,112.1" fill="#e41a1c" stroke="none" stroke-width="0"/>
<polygon points="312.45,108.57 314.75,110.87 312.45,113.17 310.15,110.87" fill="#e41a1c" stroke="none" stroke-width="0"/>
<polygon points="333.19,106.12 335.5,108.42 333.19,110.72 330.89,108.42" fill="#e41a1c" stroke="none" stroke-width="0"/>
<polygon points="347.02,106.12 349.32,108.42 347.02,110.72 344.72,108.42" fill="#e41a1c" stroke="none" stroke-width="0"/>
<polygon points="360.86,102.43 363.16,104.73 360.86,107.03 358.56,104.73" fill="#e41a1c" stroke="none" stroke-width="0"/>
<polygon points="381.6,93.84 383.9,96.14 381.6,98.44 379.3,96.14" fill="#e41a1c" stroke="none" stroke-width="0"/>
<polygon points="243.3,109.8 245.6,112.1 243.3,114.4 241,112.1" fill="#8e1b25" stroke="none" stroke-width="0"/>
<polygon points="264.05,109.8 266.35,112.1 264.05,114.4 261.75,112.1" fill="#8e1b25" stroke="none" stroke-width="0"/>
<polygon points="284.79,109.8 287.09,112.1 284.79,114.4 282.49,112.1" fill="#e41a1c" stroke="none" stroke-width="0"/>
<polygon points="298.62,109.8 300.92,112.1 298.62,114.4 296.32,112.1" fill="#e41a1c" stroke="none" stroke-width="0"/>
<polygon points="312.45,109.19 314.75,111.49 312.45,113.79 310.15,111.49" fill="#e41a1c" stroke="none" stroke-width="0"/>
<polygon points="333.19,108.57 335.5,110.87 333.19,113.17 330.89,110.87" fill="#e41a1c" stroke="none" stroke-width="0"/>
<polygon points="347.02,106.73 349.32,109.03 347.02,111.33 344.72,109.03" fill="#e41a1c" stroke="none" stroke-width="0"/>
<polygon points="360.86,106.73 363.16,109.03 360.86,111.33 358.56,109.03" fill="#e41a1c" stroke="none" stroke-width="0"/>
<polygon points="381.6,99.36 383.9,101.66 381.6,103.96 379.3,101.66" fill="#e41a1c" stroke="none" stroke-width="0"/>
<polygon points="243.3,109.8 245.6,112.1 243.3,114.4 241,112.1" fill="#8e1b25" stroke="none" stroke-width="0"/>
<polygon points="264.05,109.8 266.35,112.1 264.05,114.4 261.75,112.1" fill="#8e1b25" stroke="none" stroke-width="0"/>
<polygon points="284.79,109.8 287.09,112.1 284.79,114.4 282.49,112.1" fill="#e41a1c" stroke="none" stroke-width="0"/>
<polygon points="298.62,109.8 300.92,112.1 298.62,114.4 296.32,112.1" fill="#e41a1c" stroke="none" stroke-width="0"/>
<polygon points="312.45,109.8 314.75,112.1 312.45,114.4 310.15,112.1" fill="#e41a1c" stroke="none" stroke-width="0"/>
<polygon points="333.19,109.19 335.5,111.49 333.19,113.79 330.89,111.49" fill="#e41a1c" stroke="none" stroke-width="0"/>
<polygon points="347.02,108.57 349.32,110.87 347.02,113.17 344.72,110.87" fill="#e41a1c" stroke="none" stroke-width="0"/>
<polygon points="360.86,106.73 363.16,109.03 360.86,111.33 358.56,109.03" fill="#e41a1c" stroke="none" stroke-width="0"/>
<polygon points="381.6,102.43 383.9,104.73 381.6,107.03 379.3,104.73" fill="#e41a1c" stroke="none" stroke-width="0"/>
<polygon points="243.3,109.8 245.6,112.1 243.3,114.4 241,112.1" fill="#8e1b25" stroke="none" stroke-width="0"/>
<polygon points="264.05,109.8 266.35,112.1 264.05,114.4 261.75,112.1" fill="#8e1b25" stroke="none" stroke-width="0"/>
<polygon points="284.79,109.8 287.09,112.1 284.79,114.4 282.49,112.1" fill="#e41a1c" stroke="none" stroke-width="0"/>
<polygon points="298.62,109.8 300.92,112.1 298.62,114.4 296.32,112.1" fill="#e41a1c" stroke="none" stroke-width="0"/>
<polygon points="312.45,109.8 314.75,112.1 312.45,114.4 310.15,112.1" fill="#e41a1c" stroke="none" stroke-width="0"/>
<polygon points="333.19,109.8 335.5,112.1 333.19,114.4 330.89,112.1" fill="#e41a1c" stroke="none" stroke-width="0"/>
<polygon points="347.02,109.19 349.32,111.49 347.02,113.79 344.72,111.49" fill="#e41a1c" stroke="none" stroke-width="0"/>
<polygon points="360.86,108.57 363.16,110.87 360.86,113.17 358.56,110.87" fill="#e41a1c" stroke="none" stroke-width="0"/>
<polygon points="381.6,104.89 383.9,107.19 381.6,109.49 379.3,107.19" fill="#e41a1c" stroke="none" stroke-width="0"/>
<polygon points="243.3,109.8 245.6,112.1 243.3,114.4 241,112.1" fill="#8e1b25" stroke="none" stroke-width="0"/>
<polygon points="264.05,109.8 266.35,112.1 264.05,114.4 261.75,112.1" fill="#8e1b25" stroke="none" stroke-width="0"/>
<polygon points="284.79,109.8 287.09,112.1 284.79,114.4 282.49,112.1" fill="#e41a1c" stroke="none" stroke-width="0"/>
<polygon points="298.62,109.8 300.92,112.1 298.62,114.4 296.32,112.1" fill="#e41a1c" stroke="none" stroke-width="0"/>
<polygon points="312.45,109.8 314.75,112.1 312.45,114.4 310.15,112.1" fill="#e41a1c" stroke="none" stroke-width="0"/>
<polygon points="333.19,109.8 335.5,112.1 333.19,114.4 330.89,112.1" fill="#e41a1c" stroke="none" stroke-width="0"/>
<polygon points="347.02,109.8 349.32,112.1 347.02,114.4 344.72,112.1" fill="#e41a1c" stroke="none" stroke-width="0"/>
<polygon points="360.86,109.8 363.16,112.1 360.86,114.4 358.56,112.1" fill="#e41a1c" stroke="none" stroke-width="0"/>
<polygon points="381.6,109.8 383.9,112.1 381.6,114.4 379.3,112.1" fill="#e41a1c" stroke="none" stroke-width="0"/>
<line x1="243.3" y1="112.1" x2="382.1" y2="112.1" stroke="#000" stroke-width="0.7" stroke-opacity="0.6"/>
<rect x="403.7" y="73.6" width="103.9" height="38.8" fill="none" stroke="#222" stroke-width="1.1"/>
<line x1="409.3" y1="86.4" x2="432.4" y2="86.4" stroke="#333" stroke-width="0.8" stroke-dasharray="1.6,1.6"/>
<circle cx="421.5" cy="87.6" r="3.2" fill="#000" stroke="none" stroke-width="0"/>
<text x="436.9" y="87.9" font-size="10.7" text-anchor="start" font-weight="normal" fill="#000" textLength="27" lengthAdjust="spacingAndGlyphs" stroke="#000" stroke-width="0.25" >Naïve</text>
<line x1="409.3" y1="102.6" x2="432.4" y2="102.6" stroke="#e41a1c" stroke-width="0.8" />
<polygon points="421.5,99.8 424.7,103 421.5,106.2 418.3,103" fill="#e41a1c" stroke="none" stroke-width="0"/>
<text x="435" y="104.3" font-size="10.2" text-anchor="start" font-weight="normal" fill="#000" textLength="70.6" lengthAdjust="spacingAndGlyphs" stroke="#000" stroke-width="0.25" >MC38 rejected</text>
<text x="55.6" y="156.9" font-size="9.8" text-anchor="start" font-weight="bold" fill="#000" textLength="29.2" lengthAdjust="spacingAndGlyphs" stroke="#000" stroke-width="0.15" >MC38</text>
<line x1="28.2" y1="253.5" x2="28.2" y2="161.3" stroke="#000" stroke-width="1.1" />
<line x1="24.5" y1="253.5" x2="28.2" y2="253.5" stroke="#000" stroke-width="1.1" />
<text x="23.4" y="255.9" font-size="6.7" text-anchor="end" font-weight="bold" fill="#000" stroke="#000" stroke-width="0.25" >0</text>
<line x1="24.5" y1="235.92" x2="28.2" y2="235.92" stroke="#000" stroke-width="1.1" />
<text x="23.4" y="238.32" font-size="6.7" text-anchor="end" font-weight="bold" fill="#000" stroke="#000" stroke-width="0.25" >20</text>
<line x1="24.5" y1="218.34" x2="28.2" y2="218.34" stroke="#000" stroke-width="1.1" />
<text x="23.4" y="220.74" font-size="6.7" text-anchor="end" font-weight="bold" fill="#000" stroke="#000" stroke-width="0.25" >40</text>
<line x1="24.5" y1="200.76" x2="28.2" y2="200.76" stroke="#000" stroke-width="1.1" />
<text x="23.4" y="203.16" font-size="6.7" text-anchor="end" font-weight="bold" fill="#000" stroke="#000" stroke-width="0.25" >60</text>
<line x1="24.5" y1="183.18" x2="28.2" y2="183.18" stroke="#000" stroke-width="1.1" />
<text x="23.4" y="185.58" font-size="6.7" text-anchor="end" font-weight="bold" fill="#000" stroke="#000" stroke-width="0.25" >80</text>
<line x1="24.5" y1="165.6" x2="28.2" y2="165.6" stroke="#000" stroke-width="1.1" />
<text x="23.4" y="168" font-size="6.7" text-anchor="end" font-weight="bold" fill="#000" stroke="#000" stroke-width="0.25" >100</text>
<line x1="28.2" y1="253.5" x2="120.7" y2="253.5" stroke="#000" stroke-width="1.1" />
<line x1="28.2" y1="253.5" x2="28.2" y2="257.5" stroke="#000" stroke-width="1.1" />
<text x="28.2" y="264.8" font-size="6.7" text-anchor="middle" font-weight="bold" fill="#000" stroke="#000" stroke-width="0.25" >0</text>
<line x1="51.2" y1="253.5" x2="51.2" y2="257.5" stroke="#000" stroke-width="1.1" />
<text x="51.2" y="264.8" font-size="6.7" text-anchor="middle" font-weight="bold" fill="#000" stroke="#000" stroke-width="0.25" >5</text>
<line x1="74.2" y1="253.5" x2="74.2" y2="257.5" stroke="#000" stroke-width="1.1" />
<text x="74.2" y="264.8" font-size="6.7" text-anchor="middle" font-weight="bold" fill="#000" stroke="#000" stroke-width="0.25" >10</text>
<line x1="97.2" y1="253.5" x2="97.2" y2="257.5" stroke="#000" stroke-width="1.1" />
<text x="97.2" y="264.8" font-size="6.7" text-anchor="middle" font-weight="bold" fill="#000" stroke="#000" stroke-width="0.25" >15</text>
<line x1="120.2" y1="253.5" x2="120.2" y2="257.5" stroke="#000" stroke-width="1.1" />
<text x="120.2" y="264.8" font-size="6.7" text-anchor="middle" font-weight="bold" fill="#000" stroke="#000" stroke-width="0.25" >20</text>
<text transform="translate(7,207.15) rotate(-90)" x="0" y="0" font-size="7.4" text-anchor="middle" font-weight="bold" stroke="#000" stroke-width="0.22" textLength="58.1" lengthAdjust="spacingAndGlyphs">Percent survival</text>
<text x="29.9" y="277.8" font-size="7.1" text-anchor="start" font-weight="bold" fill="#000" textLength="89.3" lengthAdjust="spacingAndGlyphs" stroke="#000" stroke-width="0.22" >Days after second implant</text>
<polyline points="28.2,165.6 106.4,165.6 106.4,229.5 120.2,229.5 120.2,245.5" fill="none" stroke="#000" stroke-width="1.45" stroke-dasharray="3.8,2.4" />
<circle cx="106.4" cy="229.5" r="1.9" fill="#000" stroke="none" stroke-width="0"/>
<circle cx="120.2" cy="245.5" r="1.9" fill="#000" stroke="none" stroke-width="0"/>
<polyline points="28.2,165.6 120.2,165.6 120.2,165.6" fill="none" stroke="#000" stroke-width="1.5" />
<polygon points="120.2,163.4 122.4,165.6 120.2,167.8 118,165.6" fill="#fff" stroke="#000" stroke-width="1.3"/>
<text x="111.68" y="175.84" font-size="6.8" font-weight="bold" stroke="#000" stroke-width="0.4" textLength="17.45" lengthAdjust="spacing">****</text>
<text x="185.4" y="158" font-size="9.8" text-anchor="start" font-weight="bold" fill="#000" textLength="39.6" lengthAdjust="spacingAndGlyphs" stroke="#000" stroke-width="0.15" >B16-F10</text>
<line x1="157" y1="253.5" x2="157" y2="161.3" stroke="#555" stroke-width="1.5" />
<line x1="153.3" y1="253.5" x2="157" y2="253.5" stroke="#000" stroke-width="1.1" />
<text x="152.2" y="255.9" font-size="6.7" text-anchor="end" font-weight="bold" fill="#000" stroke="#000" stroke-width="0.25" >0</text>
<line x1="153.3" y1="235.92" x2="157" y2="235.92" stroke="#000" stroke-width="1.1" />
<text x="152.2" y="238.32" font-size="6.7" text-anchor="end" font-weight="bold" fill="#000" stroke="#000" stroke-width="0.25" >20</text>
<line x1="153.3" y1="218.34" x2="157" y2="218.34" stroke="#000" stroke-width="1.1" />
<text x="152.2" y="220.74" font-size="6.7" text-anchor="end" font-weight="bold" fill="#000" stroke="#000" stroke-width="0.25" >40</text>
<line x1="153.3" y1="200.76" x2="157" y2="200.76" stroke="#000" stroke-width="1.1" />
<text x="152.2" y="203.16" font-size="6.7" text-anchor="end" font-weight="bold" fill="#000" stroke="#000" stroke-width="0.25" >60</text>
<line x1="153.3" y1="183.18" x2="157" y2="183.18" stroke="#000" stroke-width="1.1" />
<text x="152.2" y="185.58" font-size="6.7" text-anchor="end" font-weight="bold" fill="#000" stroke="#000" stroke-width="0.25" >80</text>
<line x1="153.3" y1="165.6" x2="157" y2="165.6" stroke="#000" stroke-width="1.1" />
<text x="152.2" y="168" font-size="6.7" text-anchor="end" font-weight="bold" fill="#000" stroke="#000" stroke-width="0.25" >100</text>
<line x1="157" y1="253.5" x2="250.1" y2="253.5" stroke="#000" stroke-width="1.1" />
<line x1="157" y1="253.5" x2="157" y2="257.5" stroke="#000" stroke-width="1.1" />
<text x="157" y="264.8" font-size="6.7" text-anchor="middle" font-weight="bold" fill="#000" stroke="#000" stroke-width="0.25" >0</text>
<line x1="180.15" y1="253.5" x2="180.15" y2="257.5" stroke="#000" stroke-width="1.1" />
<text x="180.15" y="264.8" font-size="6.7" text-anchor="middle" font-weight="bold" fill="#000" stroke="#000" stroke-width="0.25" >5</text>
<line x1="203.3" y1="253.5" x2="203.3" y2="257.5" stroke="#000" stroke-width="1.1" />
<text x="203.3" y="264.8" font-size="6.7" text-anchor="middle" font-weight="bold" fill="#000" stroke="#000" stroke-width="0.25" >10</text>
<line x1="226.45" y1="253.5" x2="226.45" y2="257.5" stroke="#000" stroke-width="1.1" />
<text x="226.45" y="264.8" font-size="6.7" text-anchor="middle" font-weight="bold" fill="#000" stroke="#000" stroke-width="0.25" >15</text>
<line x1="249.6" y1="253.5" x2="249.6" y2="257.5" stroke="#000" stroke-width="1.1" />
<text x="249.6" y="264.8" font-size="6.7" text-anchor="middle" font-weight="bold" fill="#000" stroke="#000" stroke-width="0.25" >20</text>
<text transform="translate(136,207.3) rotate(-90)" x="0" y="0" font-size="7.4" text-anchor="middle" font-weight="bold" stroke="#000" stroke-width="0.22" textLength="59" lengthAdjust="spacingAndGlyphs">Percent survival</text>
<text x="157.4" y="277.8" font-size="7.1" text-anchor="start" font-weight="bold" fill="#000" textLength="89.3" lengthAdjust="spacingAndGlyphs" stroke="#000" stroke-width="0.22" >Days after second implant</text>
<polyline points="203.3,165.6 203.3,172.9 217.19,172.9 217.19,202.25 221.82,202.25 221.82,216.85 231.08,216.85 231.08,231.53 235.71,231.53 235.71,246.2 249.6,246.2 249.6,253.5" fill="none" stroke="#000" stroke-width="1.45" stroke-dasharray="3.8,2.4" />
<circle cx="203.3" cy="172.9" r="1.9" fill="#000" stroke="none" stroke-width="0"/>
<circle cx="217.19" cy="202.25" r="1.9" fill="#000" stroke="none" stroke-width="0"/>
<circle cx="221.82" cy="216.85" r="1.9" fill="#000" stroke="none" stroke-width="0"/>
<circle cx="231.08" cy="231.53" r="1.9" fill="#000" stroke="none" stroke-width="0"/>
<circle cx="235.71" cy="246.2" r="1.9" fill="#000" stroke="none" stroke-width="0"/>
<circle cx="249.6" cy="253.5" r="1.9" fill="#000" stroke="none" stroke-width="0"/>
<polyline points="157,165.6 249.6,165.6 249.6,180.28" fill="none" stroke="#000" stroke-width="1.5" />
<polygon points="249.6,178.08 251.8,180.28 249.6,182.48 247.4,180.28" fill="#fff" stroke="#000" stroke-width="1.3"/>
<text x="226.88" y="175.84" font-size="6.8" font-weight="bold" stroke="#000" stroke-width="0.4" textLength="17.45" lengthAdjust="spacing">****</text>
<rect x="252.1" y="192.5" width="103.7" height="39.2" fill="none" stroke="#222" stroke-width="1.1"/>
<line x1="258.5" y1="205.4" x2="280.7" y2="205.4" stroke="#888" stroke-width="1.2" stroke-dasharray="1.2,1.8"/>
<circle cx="269.8" cy="206.8" r="2.8" fill="#000" stroke="none" stroke-width="0"/>
<text x="285.5" y="207.3" font-size="10.7" text-anchor="start" font-weight="normal" fill="#000" textLength="27" lengthAdjust="spacingAndGlyphs" stroke="#000" stroke-width="0.25" >Naïve</text>
<line x1="258.5" y1="222.6" x2="280.7" y2="222.6" stroke="#000" stroke-width="0.9" />
<polygon points="270.1,219.8 272.9,222.6 270.1,225.4 267.3,222.6" fill="#fff" stroke="#000" stroke-width="1.0"/>
<text x="284.2" y="223.8" font-size="10.2" text-anchor="start" font-weight="normal" fill="#000" textLength="70.6" lengthAdjust="spacingAndGlyphs" stroke="#000" stroke-width="0.25" >MC38 rejected</text>
<text x="403.9" y="157.8" font-size="9.8" text-anchor="start" font-weight="bold" fill="#000" textLength="28.9" lengthAdjust="spacingAndGlyphs" stroke="#000" stroke-width="0.15" >MC38</text>
<line x1="392.1" y1="250.3" x2="392.1" y2="174.22" stroke="#000" stroke-width="1.1" />
<line x1="389.1" y1="250.3" x2="392.1" y2="250.3" stroke="#000" stroke-width="1.0" />
<text x="388.5" y="252.56" font-size="6.3" text-anchor="end" font-weight="bold" fill="#000" stroke="#000" stroke-width="0.25" >0.0</text>
<line x1="389.1" y1="231.38" x2="392.1" y2="231.38" stroke="#000" stroke-width="1.0" />
<text x="388.5" y="233.64" font-size="6.3" text-anchor="end" font-weight="bold" fill="#000" stroke="#000" stroke-width="0.25" >0.2</text>
<line x1="389.1" y1="212.46" x2="392.1" y2="212.46" stroke="#000" stroke-width="1.0" />
<text x="388.5" y="214.72" font-size="6.3" text-anchor="end" font-weight="bold" fill="#000" stroke="#000" stroke-width="0.25" >0.4</text>
<line x1="389.1" y1="193.54" x2="392.1" y2="193.54" stroke="#000" stroke-width="1.0" />
<text x="388.5" y="195.8" font-size="6.3" text-anchor="end" font-weight="bold" fill="#000" stroke="#000" stroke-width="0.25" >0.6</text>
<line x1="389.1" y1="174.62" x2="392.1" y2="174.62" stroke="#000" stroke-width="1.0" />
<text x="388.5" y="176.88" font-size="6.3" text-anchor="end" font-weight="bold" fill="#000" stroke="#000" stroke-width="0.25" >0.8</text>
<line x1="389.2" y1="250.3" x2="442.7" y2="250.3" stroke="#000" stroke-width="1.1" />
<line x1="406.4" y1="250.3" x2="406.4" y2="253.1" stroke="#000" stroke-width="1" />
<line x1="427.7" y1="250.3" x2="427.7" y2="253.1" stroke="#000" stroke-width="1" />
<text transform="translate(374,213.15) rotate(-90)" x="0" y="0" font-size="6.3" text-anchor="middle" font-weight="bold" stroke="#000" stroke-width="0.22" textLength="64.5" lengthAdjust="spacingAndGlyphs">Tumor volume (cm<tspan font-size="0.7em" dy="-0.4em">3</tspan><tspan dy="0.4em">)</tspan></text>
<circle cx="401.5" cy="246.04" r="1.7" fill="#000" stroke="none" stroke-width="0"/>
<circle cx="403.5" cy="248.41" r="1.7" fill="#000" stroke="none" stroke-width="0"/>
<circle cx="407" cy="249.35" r="1.7" fill="#000" stroke="none" stroke-width="0"/>
<circle cx="410.5" cy="250.3" r="1.7" fill="#000" stroke="none" stroke-width="0"/>
<circle cx="402.5" cy="250.3" r="1.7" fill="#000" stroke="none" stroke-width="0"/>
<circle cx="408.5" cy="247.46" r="1.7" fill="#000" stroke="none" stroke-width="0"/>
<circle cx="412" cy="249.35" r="1.7" fill="#000" stroke="none" stroke-width="0"/>
<circle cx="400" cy="249.83" r="1.7" fill="#000" stroke="none" stroke-width="0"/>
<circle cx="405" cy="246.52" r="1.7" fill="#000" stroke="none" stroke-width="0"/>
<circle cx="409.5" cy="249.16" r="1.7" fill="#000" stroke="none" stroke-width="0"/>
<polygon points="405.5,221.91 407.4,223.81 405.5,225.71 403.6,223.81" fill="#fff" stroke="#000" stroke-width="1.1"/>
<polygon points="405.4,235.53 407.3,237.43 405.4,239.33 403.5,237.43" fill="#fff" stroke="#000" stroke-width="1.1"/>
<polygon points="407.4,237.52 409.3,239.42 407.4,241.32 405.5,239.42" fill="#fff" stroke="#000" stroke-width="1.1"/>
<polygon points="400.3,243.67 402.2,245.57 400.3,247.47 398.4,245.57" fill="#fff" stroke="#000" stroke-width="1.1"/>
<circle cx="427.7" cy="189.76" r="1.85" fill="#000" stroke="none" stroke-width="0"/>
<circle cx="427.7" cy="205.84" r="1.85" fill="#000" stroke="none" stroke-width="0"/>
<circle cx="427.7" cy="208.68" r="1.85" fill="#000" stroke="none" stroke-width="0"/>
<circle cx="433.2" cy="212.46" r="1.85" fill="#000" stroke="none" stroke-width="0"/>
<circle cx="422.1" cy="212.46" r="1.85" fill="#000" stroke="none" stroke-width="0"/>
<circle cx="422.4" cy="217.19" r="1.85" fill="#000" stroke="none" stroke-width="0"/>
<circle cx="433.5" cy="218.14" r="1.85" fill="#000" stroke="none" stroke-width="0"/>
<circle cx="427.7" cy="221.92" r="1.85" fill="#000" stroke="none" stroke-width="0"/>
<circle cx="422.1" cy="227.6" r="1.85" fill="#000" stroke="none" stroke-width="0"/>
<circle cx="433.5" cy="227.6" r="1.85" fill="#000" stroke="none" stroke-width="0"/>
<circle cx="427.7" cy="226.65" r="1.85" fill="#000" stroke="none" stroke-width="0"/>
<circle cx="427.7" cy="236.11" r="1.85" fill="#000" stroke="none" stroke-width="0"/>
<line x1="400" y1="245.57" x2="414.4" y2="245.57" stroke="#000" stroke-width="1" />
<line x1="407.2" y1="247.56" x2="407.2" y2="243.3" stroke="#000" stroke-width="1" />
<line x1="403.7" y1="247.56" x2="410.7" y2="247.56" stroke="#000" stroke-width="1" />
<line x1="403.7" y1="243.3" x2="410.7" y2="243.3" stroke="#000" stroke-width="1" />
<line x1="422.3" y1="217.19" x2="433.5" y2="217.19" stroke="#000" stroke-width="1" />
<line x1="427.9" y1="220.97" x2="427.9" y2="212.46" stroke="#000" stroke-width="1" />
<line x1="424.9" y1="220.97" x2="430.9" y2="220.97" stroke="#000" stroke-width="1" />
<line x1="424.9" y1="212.46" x2="430.9" y2="212.46" stroke="#000" stroke-width="1" />
<line x1="405" y1="183.1" x2="429.6" y2="183.1" stroke="#000" stroke-width="2.0" />
<text x="408.48" y="181.54" font-size="6.8" font-weight="bold" stroke="#000" stroke-width="0.4" textLength="17.85" lengthAdjust="spacing">****</text>
<text transform="translate(408.8,260.05) rotate(-45)" font-size="5.85" text-anchor="end" font-weight="bold" stroke="#000" stroke-width="0.2">MC38 rejected</text>
<text transform="translate(430.1,259.25) rotate(-45)" font-size="5.6" text-anchor="end" font-weight="bold" stroke="#000" stroke-width="0.2">Naive</text>
<text x="477.9" y="157.8" font-size="9.8" text-anchor="start" font-weight="bold" fill="#000" textLength="39.8" lengthAdjust="spacingAndGlyphs" stroke="#000" stroke-width="0.15" >B16-F10</text>
<line x1="469.3" y1="248.2" x2="469.3" y2="172.2" stroke="#000" stroke-width="1.1" />
<line x1="466.3" y1="248.2" x2="469.3" y2="248.2" stroke="#000" stroke-width="1.0" />
<text x="465.7" y="250.46" font-size="6.3" text-anchor="end" font-weight="bold" fill="#000" stroke="#000" stroke-width="0.25" >0.0</text>
<line x1="466.3" y1="223" x2="469.3" y2="223" stroke="#000" stroke-width="1.0" />
<text x="465.7" y="225.26" font-size="6.3" text-anchor="end" font-weight="bold" fill="#000" stroke="#000" stroke-width="0.25" >0.5</text>
<line x1="466.3" y1="197.8" x2="469.3" y2="197.8" stroke="#000" stroke-width="1.0" />
<text x="465.7" y="200.06" font-size="6.3" text-anchor="end" font-weight="bold" fill="#000" stroke="#000" stroke-width="0.25" >1.0</text>
<line x1="466.3" y1="172.6" x2="469.3" y2="172.6" stroke="#000" stroke-width="1.0" />
<text x="465.7" y="174.86" font-size="6.3" text-anchor="end" font-weight="bold" fill="#000" stroke="#000" stroke-width="0.25" >1.5</text>
<line x1="466.2" y1="248.2" x2="521" y2="248.2" stroke="#000" stroke-width="1.1" />
<line x1="483.5" y1="248.2" x2="483.5" y2="251" stroke="#000" stroke-width="1" />
<line x1="505.4" y1="248.2" x2="505.4" y2="251" stroke="#000" stroke-width="1" />
<text transform="translate(453.9,211.15) rotate(-90)" x="0" y="0" font-size="6.3" text-anchor="middle" font-weight="bold" stroke="#000" stroke-width="0.22" textLength="63.9" lengthAdjust="spacingAndGlyphs">Tumor volume (cm<tspan font-size="0.7em" dy="-0.4em">3</tspan><tspan dy="0.4em">)</tspan></text>
<circle cx="476" cy="247.19" r="1.7" fill="#000" stroke="none" stroke-width="0"/>
<circle cx="479" cy="245.68" r="1.7" fill="#000" stroke="none" stroke-width="0"/>
<circle cx="482" cy="247.7" r="1.7" fill="#000" stroke="none" stroke-width="0"/>
<circle cx="485" cy="246.69" r="1.7" fill="#000" stroke="none" stroke-width="0"/>
<circle cx="488.5" cy="247.19" r="1.7" fill="#000" stroke="none" stroke-width="0"/>
<circle cx="490" cy="245.68" r="1.7" fill="#000" stroke="none" stroke-width="0"/>
<circle cx="481" cy="248.2" r="1.7" fill="#000" stroke="none" stroke-width="0"/>
<circle cx="486" cy="248.2" r="1.7" fill="#000" stroke="none" stroke-width="0"/>
<circle cx="477.5" cy="248.2" r="1.7" fill="#000" stroke="none" stroke-width="0"/>
<circle cx="484" cy="245.18" r="1.7" fill="#000" stroke="none" stroke-width="0"/>
<polygon points="483.9,233.7 485.8,235.6 483.9,237.5 482,235.6" fill="#fff" stroke="#000" stroke-width="1.1"/>
<polygon points="481,242.77 482.9,244.67 481,246.57 479.1,244.67" fill="#fff" stroke="#000" stroke-width="1.1"/>
<polygon points="488,242.77 489.9,244.67 488,246.57 486.1,244.67" fill="#fff" stroke="#000" stroke-width="1.1"/>
<circle cx="505.4" cy="190.74" r="1.85" fill="#000" stroke="none" stroke-width="0"/>
<circle cx="499.7" cy="196.29" r="1.85" fill="#000" stroke="none" stroke-width="0"/>
<circle cx="511.1" cy="195.28" r="1.85" fill="#000" stroke="none" stroke-width="0"/>
<circle cx="505.4" cy="198.3" r="1.85" fill="#000" stroke="none" stroke-width="0"/>
<circle cx="499.7" cy="210.9" r="1.85" fill="#000" stroke="none" stroke-width="0"/>
<circle cx="505.4" cy="210.9" r="1.85" fill="#000" stroke="none" stroke-width="0"/>
<circle cx="505.4" cy="223.5" r="1.85" fill="#000" stroke="none" stroke-width="0"/>
<circle cx="499.6" cy="233.08" r="1.85" fill="#000" stroke="none" stroke-width="0"/>
<circle cx="511.2" cy="234.09" r="1.85" fill="#000" stroke="none" stroke-width="0"/>
<circle cx="505.4" cy="236.1" r="1.85" fill="#000" stroke="none" stroke-width="0"/>
<circle cx="505.4" cy="239.63" r="1.85" fill="#000" stroke="none" stroke-width="0"/>
<line x1="477.5" y1="246.69" x2="489.5" y2="246.69" stroke="#000" stroke-width="1" />
<line x1="483.5" y1="247.7" x2="483.5" y2="245.68" stroke="#000" stroke-width="1" />
<line x1="480.5" y1="247.7" x2="486.5" y2="247.7" stroke="#000" stroke-width="1" />
<line x1="480.5" y1="245.68" x2="486.5" y2="245.68" stroke="#000" stroke-width="1" />
<line x1="498.3" y1="215.19" x2="512.5" y2="215.19" stroke="#000" stroke-width="1" />
<line x1="505.4" y1="220.23" x2="505.4" y2="210.9" stroke="#000" stroke-width="1" />
<line x1="501.9" y1="220.23" x2="508.9" y2="220.23" stroke="#000" stroke-width="1" />
<line x1="501.9" y1="210.9" x2="508.9" y2="210.9" stroke="#000" stroke-width="1" />
<line x1="482" y1="183" x2="508" y2="183" stroke="#000" stroke-width="2.0" />
<text x="485.38" y="180.34" font-size="6.8" font-weight="bold" stroke="#000" stroke-width="0.4" textLength="17.35" lengthAdjust="spacing">****</text>
<text transform="translate(486.3,257.65) rotate(-45)" font-size="5.85" text-anchor="end" font-weight="bold" stroke="#000" stroke-width="0.2">MC38 rejected</text>
<text transform="translate(507.8,256.85) rotate(-45)" font-size="5.6" text-anchor="end" font-weight="bold" stroke="#000" stroke-width="0.2">Naive</text>
<line x1="48.3" y1="397.3" x2="48.3" y2="304.6" stroke="#777" stroke-width="1.6" />
<line x1="44" y1="397.3" x2="48.3" y2="397.3" stroke="#000" stroke-width="1.1" />
<text x="43.2" y="399.91" font-size="7.3" text-anchor="end" font-weight="bold" fill="#000" stroke="#000" stroke-width="0.25" >0.0</text>
<line x1="44" y1="374.25" x2="48.3" y2="374.25" stroke="#000" stroke-width="1.1" />
<text x="43.2" y="376.86" font-size="7.3" text-anchor="end" font-weight="bold" fill="#000" stroke="#000" stroke-width="0.25" >0.5</text>
<line x1="44" y1="351.2" x2="48.3" y2="351.2" stroke="#000" stroke-width="1.1" />
<text x="43.2" y="353.81" font-size="7.3" text-anchor="end" font-weight="bold" fill="#000" stroke="#000" stroke-width="0.25" >1.0</text>
<line x1="44" y1="328.15" x2="48.3" y2="328.15" stroke="#000" stroke-width="1.1" />
<text x="43.2" y="330.76" font-size="7.3" text-anchor="end" font-weight="bold" fill="#000" stroke="#000" stroke-width="0.25" >1.5</text>
<line x1="44" y1="305.1" x2="48.3" y2="305.1" stroke="#000" stroke-width="1.1" />
<text x="43.2" y="307.71" font-size="7.3" text-anchor="end" font-weight="bold" fill="#000" stroke="#000" stroke-width="0.25" >2.0</text>
<line x1="48.3" y1="397.3" x2="187" y2="397.3" stroke="#000" stroke-width="1.1" />
<line x1="48.3" y1="397.3" x2="48.3" y2="400.9" stroke="#000" stroke-width="1.1" />
<text x="48.3" y="408.7" font-size="7.0" text-anchor="middle" font-weight="bold" fill="#000" stroke="#000" stroke-width="0.25" >0</text>
<line x1="82.85" y1="397.3" x2="82.85" y2="400.9" stroke="#000" stroke-width="1.1" />
<text x="82.85" y="408.7" font-size="7.0" text-anchor="middle" font-weight="bold" fill="#000" stroke="#000" stroke-width="0.25" >20</text>
<line x1="117.4" y1="397.3" x2="117.4" y2="400.9" stroke="#000" stroke-width="1.1" />
<text x="117.4" y="408.7" font-size="7.0" text-anchor="middle" font-weight="bold" fill="#000" stroke="#000" stroke-width="0.25" >40</text>
<line x1="151.95" y1="397.3" x2="151.95" y2="400.9" stroke="#000" stroke-width="1.1" />
<text x="151.95" y="408.7" font-size="7.0" text-anchor="middle" font-weight="bold" fill="#000" stroke="#000" stroke-width="0.25" >60</text>
<line x1="186.5" y1="397.3" x2="186.5" y2="400.9" stroke="#000" stroke-width="1.1" />
<text x="186.5" y="408.7" font-size="7.0" text-anchor="middle" font-weight="bold" fill="#000" stroke="#000" stroke-width="0.25" >80</text>
<text transform="translate(27.9,351.25) rotate(-90)" x="0" y="0" font-size="7.7" text-anchor="middle" font-weight="bold" stroke="#000" stroke-width="0.22" textLength="77.3" lengthAdjust="spacingAndGlyphs">Tumor volume (cm<tspan font-size="0.7em" dy="-0.4em">3</tspan><tspan dy="0.4em">)</tspan></text>
<text x="73.2" y="421.1" font-size="7.1" text-anchor="start" font-weight="bold" fill="#000" textLength="89.1" lengthAdjust="spacingAndGlyphs" stroke="#000" stroke-width="0.22" >Days after second implant</text>
<polyline points="48.3,397.3 53.48,397.3 56.25,393.61 58.66,389.92 62.47,388.08 65.23,377.02 66.96,371.48 70.58,341.52 74.04,312.48" fill="none" stroke="#000" stroke-width="1.35" stroke-dasharray="2.2,1.2" />
<polyline points="48.3,397.3 53.48,397.3 57.97,392.23 61.26,389.92 65.23,383.93 71.1,365.95 72.83,367.34" fill="none" stroke="#000" stroke-width="1.35" stroke-dasharray="2.2,1.2" />
<polyline points="48.3,397.3 53.48,397.3 58.66,392.69 61.26,391.31 64.54,390.38 70.24,385.78 73.52,378.4 77.32,374.25 82.68,365.49 84.58,357.19 86.31,351.2 89.24,343.82 89.59,335.53" fill="none" stroke="#000" stroke-width="1.35" stroke-dasharray="2.2,1.2" />
<polyline points="48.3,397.3 53.48,397.3 58.66,394.53 62.47,391.77 64.54,388.08 70.24,383.93 75.25,383.47 77.67,379.78 82.68,373.33 85.61,370.56 89.76,373.79 94.42,358.58 98.57,354.43 101.68,343.36 106.34,336.91 106.86,315.7" fill="none" stroke="#000" stroke-width="1.35" stroke-dasharray="2.2,1.2" />
<polyline points="48.3,397.3 53.48,397.3 56.94,395.46 61.26,393.15 64.54,391.77 70.24,389 72.83,388.08 75.25,387.16 77.67,385.78 82.85,382.09 89.76,378.86 93.22,365.03 98.57,363.19 102.2,355.81 110.32,341.52 113.6,322.16" fill="none" stroke="#000" stroke-width="1.35" stroke-dasharray="2.2,1.2" />
<polyline points="48.3,397.3 53.48,397.3 57.97,395 61.26,392.69 64.54,393.15 70.24,392.23 72.83,390.38 75.25,391.77 77.67,392.69 83.02,388.54 85.79,381.17 90.28,372.87 95.12,350.28" fill="none" stroke="#000" stroke-width="1.35" stroke-dasharray="2.2,1.2" />
<polyline points="48.3,397.3 53.48,397.3 58.66,395.92 62.47,393.15 65.57,392.23 70.24,388.08 72.83,385.78 77.67,388.08 83.02,382.09 89.76,378.86 94.42,369.64 98.05,370.56 101.68,365.49 105.31,362.73" fill="none" stroke="#000" stroke-width="1.35" stroke-dasharray="2.2,1.2" />
<polyline points="48.3,397.3 53.48,397.3 58.66,395 62.12,391.31 65.57,389 70.24,383.93 72.83,383.47 75.94,382.09 78.53,376.56 82.85,371.94 86.31,365.03 89.76,358.12" fill="none" stroke="#000" stroke-width="1.35" stroke-dasharray="2.2,1.2" />
<circle cx="48.3" cy="397.3" r="1.8" fill="#000" stroke="none" stroke-width="0"/>
<circle cx="53.48" cy="397.3" r="1.8" fill="#000" stroke="none" stroke-width="0"/>
<circle cx="56.25" cy="393.61" r="1.8" fill="#000" stroke="none" stroke-width="0"/>
<circle cx="58.66" cy="389.92" r="1.8" fill="#000" stroke="none" stroke-width="0"/>
<circle cx="62.47" cy="388.08" r="1.8" fill="#000" stroke="none" stroke-width="0"/>
<circle cx="65.23" cy="377.02" r="1.8" fill="#000" stroke="none" stroke-width="0"/>
<circle cx="66.96" cy="371.48" r="1.8" fill="#000" stroke="none" stroke-width="0"/>
<circle cx="70.58" cy="341.52" r="1.8" fill="#000" stroke="none" stroke-width="0"/>
<circle cx="74.04" cy="312.48" r="1.8" fill="#000" stroke="none" stroke-width="0"/>
<circle cx="48.3" cy="397.3" r="1.8" fill="#000" stroke="none" stroke-width="0"/>
<circle cx="53.48" cy="397.3" r="1.8" fill="#000" stroke="none" stroke-width="0"/>
<circle cx="57.97" cy="392.23" r="1.8" fill="#000" stroke="none" stroke-width="0"/>
<circle cx="61.26" cy="389.92" r="1.8" fill="#000" stroke="none" stroke-width="0"/>
<circle cx="65.23" cy="383.93" r="1.8" fill="#000" stroke="none" stroke-width="0"/>
<circle cx="71.1" cy="365.95" r="1.8" fill="#000" stroke="none" stroke-width="0"/>
<circle cx="72.83" cy="367.34" r="1.8" fill="#000" stroke="none" stroke-width="0"/>
<circle cx="48.3" cy="397.3" r="1.8" fill="#000" stroke="none" stroke-width="0"/>
<circle cx="53.48" cy="397.3" r="1.8" fill="#000" stroke="none" stroke-width="0"/>
<circle cx="58.66" cy="392.69" r="1.8" fill="#000" stroke="none" stroke-width="0"/>
<circle cx="61.26" cy="391.31" r="1.8" fill="#000" stroke="none" stroke-width="0"/>
<circle cx="64.54" cy="390.38" r="1.8" fill="#000" stroke="none" stroke-width="0"/>
<circle cx="70.24" cy="385.78" r="1.8" fill="#000" stroke="none" stroke-width="0"/>
<circle cx="73.52" cy="378.4" r="1.8" fill="#000" stroke="none" stroke-width="0"/>
<circle cx="77.32" cy="374.25" r="1.8" fill="#000" stroke="none" stroke-width="0"/>
<circle cx="82.68" cy="365.49" r="1.8" fill="#000" stroke="none" stroke-width="0"/>
<circle cx="84.58" cy="357.19" r="1.8" fill="#000" stroke="none" stroke-width="0"/>
<circle cx="86.31" cy="351.2" r="1.8" fill="#000" stroke="none" stroke-width="0"/>
<circle cx="89.24" cy="343.82" r="1.8" fill="#000" stroke="none" stroke-width="0"/>
<circle cx="89.59" cy="335.53" r="1.8" fill="#000" stroke="none" stroke-width="0"/>
<circle cx="48.3" cy="397.3" r="1.8" fill="#000" stroke="none" stroke-width="0"/>
<circle cx="53.48" cy="397.3" r="1.8" fill="#000" stroke="none" stroke-width="0"/>
<circle cx="58.66" cy="394.53" r="1.8" fill="#000" stroke="none" stroke-width="0"/>
<circle cx="62.47" cy="391.77" r="1.8" fill="#000" stroke="none" stroke-width="0"/>
<circle cx="64.54" cy="388.08" r="1.8" fill="#000" stroke="none" stroke-width="0"/>
<circle cx="70.24" cy="383.93" r="1.8" fill="#000" stroke="none" stroke-width="0"/>
<circle cx="75.25" cy="383.47" r="1.8" fill="#000" stroke="none" stroke-width="0"/>
<circle cx="77.67" cy="379.78" r="1.8" fill="#000" stroke="none" stroke-width="0"/>
<circle cx="82.68" cy="373.33" r="1.8" fill="#000" stroke="none" stroke-width="0"/>
<circle cx="85.61" cy="370.56" r="1.8" fill="#000" stroke="none" stroke-width="0"/>
<circle cx="89.76" cy="373.79" r="1.8" fill="#000" stroke="none" stroke-width="0"/>
<circle cx="94.42" cy="358.58" r="1.8" fill="#000" stroke="none" stroke-width="0"/>
<circle cx="98.57" cy="354.43" r="1.8" fill="#000" stroke="none" stroke-width="0"/>
<circle cx="101.68" cy="343.36" r="1.8" fill="#000" stroke="none" stroke-width="0"/>
<circle cx="106.34" cy="336.91" r="1.8" fill="#000" stroke="none" stroke-width="0"/>
<circle cx="106.86" cy="315.7" r="1.8" fill="#000" stroke="none" stroke-width="0"/>
<circle cx="48.3" cy="397.3" r="1.8" fill="#000" stroke="none" stroke-width="0"/>
<circle cx="53.48" cy="397.3" r="1.8" fill="#000" stroke="none" stroke-width="0"/>
<circle cx="56.94" cy="395.46" r="1.8" fill="#000" stroke="none" stroke-width="0"/>
<circle cx="61.26" cy="393.15" r="1.8" fill="#000" stroke="none" stroke-width="0"/>
<circle cx="64.54" cy="391.77" r="1.8" fill="#000" stroke="none" stroke-width="0"/>
<circle cx="70.24" cy="389" r="1.8" fill="#000" stroke="none" stroke-width="0"/>
<circle cx="72.83" cy="388.08" r="1.8" fill="#000" stroke="none" stroke-width="0"/>
<circle cx="75.25" cy="387.16" r="1.8" fill="#000" stroke="none" stroke-width="0"/>
<circle cx="77.67" cy="385.78" r="1.8" fill="#000" stroke="none" stroke-width="0"/>
<circle cx="82.85" cy="382.09" r="1.8" fill="#000" stroke="none" stroke-width="0"/>
<circle cx="89.76" cy="378.86" r="1.8" fill="#000" stroke="none" stroke-width="0"/>
<circle cx="93.22" cy="365.03" r="1.8" fill="#000" stroke="none" stroke-width="0"/>
<circle cx="98.57" cy="363.19" r="1.8" fill="#000" stroke="none" stroke-width="0"/>
<circle cx="102.2" cy="355.81" r="1.8" fill="#000" stroke="none" stroke-width="0"/>
<circle cx="110.32" cy="341.52" r="1.8" fill="#000" stroke="none" stroke-width="0"/>
<circle cx="113.6" cy="322.16" r="1.8" fill="#000" stroke="none" stroke-width="0"/>
<circle cx="48.3" cy="397.3" r="1.8" fill="#000" stroke="none" stroke-width="0"/>
<circle cx="53.48" cy="397.3" r="1.8" fill="#000" stroke="none" stroke-width="0"/>
<circle cx="57.97" cy="395" r="1.8" fill="#000" stroke="none" stroke-width="0"/>
<circle cx="61.26" cy="392.69" r="1.8" fill="#000" stroke="none" stroke-width="0"/>
<circle cx="64.54" cy="393.15" r="1.8" fill="#000" stroke="none" stroke-width="0"/>
<circle cx="70.24" cy="392.23" r="1.8" fill="#000" stroke="none" stroke-width="0"/>
<circle cx="72.83" cy="390.38" r="1.8" fill="#000" stroke="none" stroke-width="0"/>
<circle cx="75.25" cy="391.77" r="1.8" fill="#000" stroke="none" stroke-width="0"/>
<circle cx="77.67" cy="392.69" r="1.8" fill="#000" stroke="none" stroke-width="0"/>
<circle cx="83.02" cy="388.54" r="1.8" fill="#000" stroke="none" stroke-width="0"/>
<circle cx="85.79" cy="381.17" r="1.8" fill="#000" stroke="none" stroke-width="0"/>
<circle cx="90.28" cy="372.87" r="1.8" fill="#000" stroke="none" stroke-width="0"/>
<circle cx="95.12" cy="350.28" r="1.8" fill="#000" stroke="none" stroke-width="0"/>
<circle cx="48.3" cy="397.3" r="1.8" fill="#000" stroke="none" stroke-width="0"/>
<circle cx="53.48" cy="397.3" r="1.8" fill="#000" stroke="none" stroke-width="0"/>
<circle cx="58.66" cy="395.92" r="1.8" fill="#000" stroke="none" stroke-width="0"/>
<circle cx="62.47" cy="393.15" r="1.8" fill="#000" stroke="none" stroke-width="0"/>
<circle cx="65.57" cy="392.23" r="1.8" fill="#000" stroke="none" stroke-width="0"/>
<circle cx="70.24" cy="388.08" r="1.8" fill="#000" stroke="none" stroke-width="0"/>
<circle cx="72.83" cy="385.78" r="1.8" fill="#000" stroke="none" stroke-width="0"/>
<circle cx="77.67" cy="388.08" r="1.8" fill="#000" stroke="none" stroke-width="0"/>
<circle cx="83.02" cy="382.09" r="1.8" fill="#000" stroke="none" stroke-width="0"/>
<circle cx="89.76" cy="378.86" r="1.8" fill="#000" stroke="none" stroke-width="0"/>
<circle cx="94.42" cy="369.64" r="1.8" fill="#000" stroke="none" stroke-width="0"/>
<circle cx="98.05" cy="370.56" r="1.8" fill="#000" stroke="none" stroke-width="0"/>
<circle cx="101.68" cy="365.49" r="1.8" fill="#000" stroke="none" stroke-width="0"/>
<circle cx="105.31" cy="362.73" r="1.8" fill="#000" stroke="none" stroke-width="0"/>
<circle cx="48.3" cy="397.3" r="1.8" fill="#000" stroke="none" stroke-width="0"/>
<circle cx="53.48" cy="397.3" r="1.8" fill="#000" stroke="none" stroke-width="0"/>
<circle cx="58.66" cy="395" r="1.8" fill="#000" stroke="none" stroke-width="0"/>
<circle cx="62.12" cy="391.31" r="1.8" fill="#000" stroke="none" stroke-width="0"/>
<circle cx="65.57" cy="389" r="1.8" fill="#000" stroke="none" stroke-width="0"/>
<circle cx="70.24" cy="383.93" r="1.8" fill="#000" stroke="none" stroke-width="0"/>
<circle cx="72.83" cy="383.47" r="1.8" fill="#000" stroke="none" stroke-width="0"/>
<circle cx="75.94" cy="382.09" r="1.8" fill="#000" stroke="none" stroke-width="0"/>
<circle cx="78.53" cy="376.56" r="1.8" fill="#000" stroke="none" stroke-width="0"/>
<circle cx="82.85" cy="371.94" r="1.8" fill="#000" stroke="none" stroke-width="0"/>
<circle cx="86.31" cy="365.03" r="1.8" fill="#000" stroke="none" stroke-width="0"/>
<circle cx="89.76" cy="358.12" r="1.8" fill="#000" stroke="none" stroke-width="0"/>
<polyline points="48.3,397.3 186.5,397.3" fill="none" stroke="#e41a1c" stroke-width="1.2" />
<polygon points="59.7,395.4 61.6,397.3 59.7,399.2 57.8,397.3" fill="#e41a1c" stroke="none" stroke-width="0"/>
<polygon points="62.98,395.4 64.88,397.3 62.98,399.2 61.08,397.3" fill="#e41a1c" stroke="none" stroke-width="0"/>
<polygon points="66.44,395.4 68.34,397.3 66.44,399.2 64.54,397.3" fill="#e41a1c" stroke="none" stroke-width="0"/>
<polygon points="69.89,395.4 71.79,397.3 69.89,399.2 67.99,397.3" fill="#e41a1c" stroke="none" stroke-width="0"/>
<polygon points="73.35,395.4 75.25,397.3 73.35,399.2 71.45,397.3" fill="#e41a1c" stroke="none" stroke-width="0"/>
<polygon points="76.8,395.4 78.7,397.3 76.8,399.2 74.9,397.3" fill="#e41a1c" stroke="none" stroke-width="0"/>
<polygon points="80.26,395.4 82.16,397.3 80.26,399.2 78.36,397.3" fill="#e41a1c" stroke="none" stroke-width="0"/>
<polygon points="84.58,395.4 86.48,397.3 84.58,399.2 82.68,397.3" fill="#e41a1c" stroke="none" stroke-width="0"/>
<polygon points="88.03,395.4 89.93,397.3 88.03,399.2 86.13,397.3" fill="#e41a1c" stroke="none" stroke-width="0"/>
<polygon points="91.49,395.4 93.39,397.3 91.49,399.2 89.59,397.3" fill="#e41a1c" stroke="none" stroke-width="0"/>
<polygon points="96.67,395.4 98.57,397.3 96.67,399.2 94.77,397.3" fill="#e41a1c" stroke="none" stroke-width="0"/>
<polygon points="100.12,395.4 102.03,397.3 100.12,399.2 98.22,397.3" fill="#e41a1c" stroke="none" stroke-width="0"/>
<polygon points="103.58,395.4 105.48,397.3 103.58,399.2 101.68,397.3" fill="#e41a1c" stroke="none" stroke-width="0"/>
<polygon points="108.76,395.4 110.66,397.3 108.76,399.2 106.86,397.3" fill="#e41a1c" stroke="none" stroke-width="0"/>
<polygon points="112.22,395.4 114.12,397.3 112.22,399.2 110.32,397.3" fill="#e41a1c" stroke="none" stroke-width="0"/>
<polygon points="115.67,395.4 117.57,397.3 115.67,399.2 113.77,397.3" fill="#e41a1c" stroke="none" stroke-width="0"/>
<polygon points="120.86,395.4 122.76,397.3 120.86,399.2 118.95,397.3" fill="#e41a1c" stroke="none" stroke-width="0"/>
<polygon points="124.31,395.4 126.21,397.3 124.31,399.2 122.41,397.3" fill="#e41a1c" stroke="none" stroke-width="0"/>
<polygon points="127.77,395.4 129.66,397.3 127.77,399.2 125.86,397.3" fill="#e41a1c" stroke="none" stroke-width="0"/>
<polygon points="132.95,395.4 134.85,397.3 132.95,399.2 131.05,397.3" fill="#e41a1c" stroke="none" stroke-width="0"/>
<polygon points="136.4,395.4 138.3,397.3 136.4,399.2 134.5,397.3" fill="#e41a1c" stroke="none" stroke-width="0"/>
<polygon points="139.86,395.4 141.76,397.3 139.86,399.2 137.96,397.3" fill="#e41a1c" stroke="none" stroke-width="0"/>
<polygon points="145.04,395.4 146.94,397.3 145.04,399.2 143.14,397.3" fill="#e41a1c" stroke="none" stroke-width="0"/>
<polygon points="148.5,395.4 150.4,397.3 148.5,399.2 146.59,397.3" fill="#e41a1c" stroke="none" stroke-width="0"/>
<polygon points="151.95,395.4 153.85,397.3 151.95,399.2 150.05,397.3" fill="#e41a1c" stroke="none" stroke-width="0"/>
<polygon points="157.13,395.4 159.03,397.3 157.13,399.2 155.23,397.3" fill="#e41a1c" stroke="none" stroke-width="0"/>
<polygon points="160.59,395.4 162.49,397.3 160.59,399.2 158.69,397.3" fill="#e41a1c" stroke="none" stroke-width="0"/>
<polygon points="164.04,395.4 165.94,397.3 164.04,399.2 162.14,397.3" fill="#e41a1c" stroke="none" stroke-width="0"/>
<polygon points="169.22,395.4 171.12,397.3 169.22,399.2 167.32,397.3" fill="#e41a1c" stroke="none" stroke-width="0"/>
<polygon points="172.68,395.4 174.58,397.3 172.68,399.2 170.78,397.3" fill="#e41a1c" stroke="none" stroke-width="0"/>
<polygon points="176.13,395.4 178.03,397.3 176.13,399.2 174.23,397.3" fill="#e41a1c" stroke="none" stroke-width="0"/>
<polygon points="181.32,395.4 183.22,397.3 181.32,399.2 179.42,397.3" fill="#e41a1c" stroke="none" stroke-width="0"/>
<polygon points="184.77,395.4 186.67,397.3 184.77,399.2 182.87,397.3" fill="#e41a1c" stroke="none" stroke-width="0"/>
<polygon points="186.5,395.4 188.4,397.3 186.5,399.2 184.6,397.3" fill="#e41a1c" stroke="none" stroke-width="0"/>
<line x1="252.3" y1="396.2" x2="252.3" y2="303.2" stroke="#000" stroke-width="1.1" />
<line x1="248.7" y1="396.2" x2="252.3" y2="396.2" stroke="#000" stroke-width="1.1" />
<text x="247.4" y="398.67" font-size="6.9" text-anchor="end" font-weight="bold" fill="#000" stroke="#000" stroke-width="0.25" >0</text>
<line x1="248.7" y1="378.62" x2="252.3" y2="378.62" stroke="#000" stroke-width="1.1" />
<text x="247.4" y="381.09" font-size="6.9" text-anchor="end" font-weight="bold" fill="#000" stroke="#000" stroke-width="0.25" >20</text>
<line x1="248.7" y1="361.04" x2="252.3" y2="361.04" stroke="#000" stroke-width="1.1" />
<text x="247.4" y="363.51" font-size="6.9" text-anchor="end" font-weight="bold" fill="#000" stroke="#000" stroke-width="0.25" >40</text>
<line x1="248.7" y1="343.46" x2="252.3" y2="343.46" stroke="#000" stroke-width="1.1" />
<text x="247.4" y="345.93" font-size="6.9" text-anchor="end" font-weight="bold" fill="#000" stroke="#000" stroke-width="0.25" >60</text>
<line x1="248.7" y1="325.88" x2="252.3" y2="325.88" stroke="#000" stroke-width="1.1" />
<text x="247.4" y="328.35" font-size="6.9" text-anchor="end" font-weight="bold" fill="#000" stroke="#000" stroke-width="0.25" >80</text>
<line x1="248.7" y1="308.3" x2="252.3" y2="308.3" stroke="#000" stroke-width="1.1" />
<text x="247.4" y="310.77" font-size="6.9" text-anchor="end" font-weight="bold" fill="#000" stroke="#000" stroke-width="0.25" >100</text>
<line x1="252.3" y1="396.2" x2="345.2" y2="396.2" stroke="#000" stroke-width="1.1" />
<line x1="252.3" y1="396.2" x2="252.3" y2="399.8" stroke="#000" stroke-width="1.1" />
<text x="252.3" y="408" font-size="6.7" text-anchor="middle" font-weight="bold" fill="#000" stroke="#000" stroke-width="0.25" >0</text>
<line x1="275.4" y1="396.2" x2="275.4" y2="399.8" stroke="#000" stroke-width="1.1" />
<text x="275.4" y="408" font-size="6.7" text-anchor="middle" font-weight="bold" fill="#000" stroke="#000" stroke-width="0.25" >20</text>
<line x1="298.5" y1="396.2" x2="298.5" y2="399.8" stroke="#000" stroke-width="1.1" />
<text x="298.5" y="408" font-size="6.7" text-anchor="middle" font-weight="bold" fill="#000" stroke="#000" stroke-width="0.25" >40</text>
<line x1="321.6" y1="396.2" x2="321.6" y2="399.8" stroke="#000" stroke-width="1.1" />
<text x="321.6" y="408" font-size="6.7" text-anchor="middle" font-weight="bold" fill="#000" stroke="#000" stroke-width="0.25" >60</text>
<line x1="344.7" y1="396.2" x2="344.7" y2="399.8" stroke="#000" stroke-width="1.1" />
<text x="344.7" y="408" font-size="6.7" text-anchor="middle" font-weight="bold" fill="#000" stroke="#000" stroke-width="0.25" >80</text>
<text transform="translate(231,349.55) rotate(-90)" x="0" y="0" font-size="7.5" text-anchor="middle" font-weight="bold" stroke="#000" stroke-width="0.22" textLength="58.9" lengthAdjust="spacingAndGlyphs">Percent survival</text>
<text x="255.7" y="420.5" font-size="7.1" text-anchor="start" font-weight="bold" fill="#000" textLength="89.7" lengthAdjust="spacingAndGlyphs" stroke="#000" stroke-width="0.22" >Days after second implant</text>
<polyline points="252.3,308.3 344.7,308.3" fill="none" stroke="#cc3344" stroke-width="1.1" />
<polygon points="344.7,306.1 346.9,308.3 344.7,310.5 342.5,308.3" fill="#d42030" stroke="none" stroke-width="0"/>
<polyline points="252.3,308.3 269.62,308.3 269.62,318.06 276.56,318.06 276.56,327.81 277.71,327.81 277.71,337.57 280.02,337.57 280.02,357.17 288.11,357.17 288.11,366.93 291.57,366.93 291.57,386.44 296.19,386.44 296.19,396.2" fill="none" stroke="#000" stroke-width="1.3" stroke-dasharray="2,1.5" />
<circle cx="269.62" cy="318.06" r="2.2" fill="#000" stroke="none" stroke-width="0"/>
<circle cx="276.56" cy="327.81" r="2.2" fill="#000" stroke="none" stroke-width="0"/>
<circle cx="277.71" cy="337.57" r="2.2" fill="#000" stroke="none" stroke-width="0"/>
<circle cx="280.02" cy="357.17" r="2.2" fill="#000" stroke="none" stroke-width="0"/>
<circle cx="288.11" cy="366.93" r="2.2" fill="#000" stroke="none" stroke-width="0"/>
<circle cx="291.57" cy="386.44" r="2.2" fill="#000" stroke="none" stroke-width="0"/>
<circle cx="296.19" cy="396.2" r="2.2" fill="#000" stroke="none" stroke-width="0"/>
<text x="326.78" y="316.24" font-size="6.8" font-weight="bold" stroke="#000" stroke-width="0.4" textLength="12.85" lengthAdjust="spacing">***</text>
<rect x="384.4" y="350.8" width="105.2" height="39.1" fill="none" stroke="#222" stroke-width="1.1"/>
<line x1="392" y1="363.5" x2="413" y2="363.5" stroke="#888" stroke-width="1.2" stroke-dasharray="1.2,1.8"/>
<circle cx="402.2" cy="364.6" r="3" fill="#000" stroke="none" stroke-width="0"/>
<text x="418.5" y="365.3" font-size="10.7" text-anchor="start" font-weight="normal" fill="#000" textLength="27" lengthAdjust="spacingAndGlyphs" stroke="#000" stroke-width="0.25" >Naïve</text>
<line x1="392" y1="379.9" x2="413" y2="379.9" stroke="#f4a0a0" stroke-width="1.1" />
<polygon points="402.6,376.9 405.6,379.9 402.6,382.9 399.6,379.9" fill="#e0101a" stroke="none" stroke-width="0"/>
<text x="416.6" y="382.2" font-size="10.2" text-anchor="start" font-weight="normal" fill="#000" textLength="70" lengthAdjust="spacingAndGlyphs" stroke="#000" stroke-width="0.25" >CT-26 rejected</text>
</svg>
</body></html>
